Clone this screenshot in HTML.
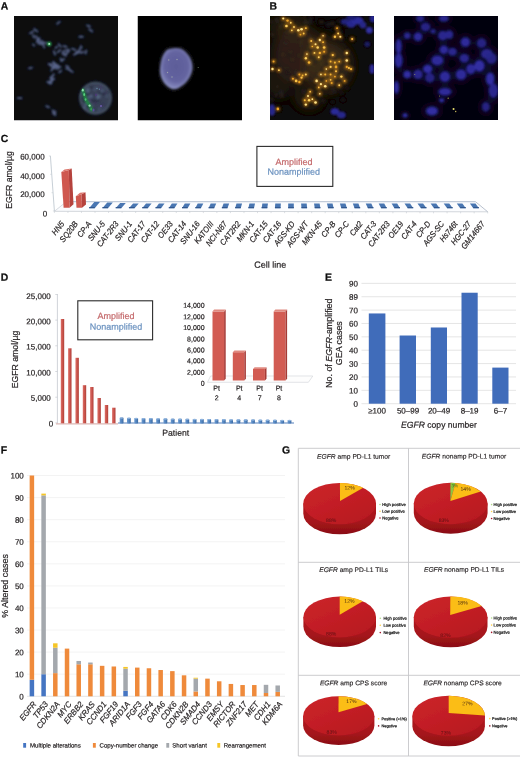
<!DOCTYPE html>
<html lang="en">
<head>
<meta charset="utf-8">
<title>EGFR amplification figure</title>
<style>
html,body{margin:0;padding:0;background:#fff;}
body{width:520px;height:757px;overflow:hidden;}
svg{display:block;font-family:"Liberation Sans",sans-serif;}
</style>
</head>
<body>
<svg width="520" height="757" viewBox="0 0 520 757">
<defs>
<filter id="b1" x="-50%" y="-50%" width="200%" height="200%"><feGaussianBlur stdDeviation="0.6"/></filter>
<filter id="b15" x="-50%" y="-50%" width="200%" height="200%"><feGaussianBlur stdDeviation="0.9"/></filter>
<filter id="b2" x="-50%" y="-50%" width="200%" height="200%"><feGaussianBlur stdDeviation="1.2"/></filter>
<filter id="b3" x="-50%" y="-50%" width="200%" height="200%"><feGaussianBlur stdDeviation="2.5"/></filter>
<filter id="b6" x="-50%" y="-50%" width="200%" height="200%"><feGaussianBlur stdDeviation="6"/></filter>
<filter id="soft" x="0" y="0" width="100%" height="100%" filterUnits="objectBoundingBox"><feGaussianBlur stdDeviation="0.32"/></filter>
<clipPath id="cA1"><rect x="14" y="16" width="104" height="104.5"/></clipPath>
<radialGradient id="gCell" cx="0.5" cy="0.5" r="0.5"><stop offset="0" stop-color="#353c52"/><stop offset="0.86" stop-color="#3a4358"/><stop offset="1" stop-color="#556478"/></radialGradient>
<clipPath id="cCell"><circle cx="95.5" cy="98.1" r="16.6"/></clipPath>
<clipPath id="cA2"><rect x="137.5" y="16" width="104.5" height="104.5"/></clipPath>
<radialGradient id="gBlob" cx="0.5" cy="0.45" r="0.55"><stop offset="0" stop-color="#5c5c98"/><stop offset="0.66" stop-color="#6464a0"/><stop offset="1" stop-color="#8e93c6"/></radialGradient>
<clipPath id="cB1"><rect x="270" y="16" width="104" height="104"/></clipPath>
<clipPath id="cB2"><rect x="394" y="16" width="104" height="104"/></clipPath>
<linearGradient id="gRed" x1="0" x2="1" y1="0" y2="0"><stop offset="0" stop-color="#dc7068"/><stop offset="0.55" stop-color="#c9524a"/><stop offset="1" stop-color="#ae403a"/></linearGradient>
<linearGradient id="gBlue" x1="0" x2="1" y1="0" y2="0"><stop offset="0" stop-color="#6a9ad0"/><stop offset="0.55" stop-color="#4f81bd"/><stop offset="1" stop-color="#3c6aa0"/></linearGradient>
<linearGradient id="gPieTop" x1="0.1" y1="0" x2="0.9" y2="1"><stop offset="0" stop-color="#cb242a"/><stop offset="0.5" stop-color="#c21e25"/><stop offset="1" stop-color="#b6181f"/></linearGradient>
<linearGradient id="gPieSide" x1="0" y1="0" x2="0" y2="1"><stop offset="0" stop-color="#b0191f"/><stop offset="0.6" stop-color="#a5151b"/><stop offset="1" stop-color="#8a0f14"/></linearGradient>
</defs>
<rect width="520" height="757" fill="#fff"/>
<g filter="url(#soft)">
<rect width="520" height="757" fill="#fff"/>
<!-- panel labels -->
<text x="0" y="0" font-size="10.4" font-weight="bold" fill="#111" transform="translate(0.8 9.5) rotate(0.03)" stroke="#111" stroke-width="0.25">A</text>
<text x="0" y="0" font-size="10.4" font-weight="bold" fill="#111" transform="translate(269.6 9.6) rotate(0.03)" stroke="#111" stroke-width="0.25">B</text>
<text x="0" y="0" font-size="10.4" font-weight="bold" fill="#111" transform="translate(0.8 142) rotate(0.03)" stroke="#111" stroke-width="0.25">C</text>
<text x="0" y="0" font-size="10.4" font-weight="bold" fill="#111" transform="translate(0.8 280.8) rotate(0.03)" stroke="#111" stroke-width="0.25">D</text>
<text x="0" y="0" font-size="10.4" font-weight="bold" fill="#111" transform="translate(325 280.8) rotate(0.03)" stroke="#111" stroke-width="0.25">E</text>
<text x="0" y="0" font-size="10.4" font-weight="bold" fill="#111" transform="translate(0.8 453.5) rotate(0.03)" stroke="#111" stroke-width="0.25">F</text>
<text x="0" y="0" font-size="10.4" font-weight="bold" fill="#111" transform="translate(282.1 453.6) rotate(0.03)" stroke="#111" stroke-width="0.25">G</text>
<!-- Panel A/B: microscopy images -->
<g clip-path="url(#cA1)">
<rect x="14" y="16" width="104" height="104.5" fill="#080b10"/>
<g filter="url(#b15)" stroke="#7482b2" stroke-width="1.8" stroke-linecap="round" opacity="0.78">
<line x1="38.54" y1="43.5" x2="41.59" y2="44.2"/>
<line x1="37.01" y1="40.52" x2="36.97" y2="42.37"/>
<line x1="45.05" y1="42.71" x2="46.85" y2="43.24"/>
<line x1="32.88" y1="44.34" x2="34.4" y2="45.63"/>
<line x1="33.05" y1="34.97" x2="34" y2="37.78"/>
<line x1="41.53" y1="40.59" x2="43.72" y2="43.41"/>
<line x1="43.64" y1="42.81" x2="41.64" y2="44.11"/>
<line x1="43.16" y1="44.69" x2="44.37" y2="47.55"/>
<line x1="38.92" y1="41.24" x2="40.4" y2="42.36"/>
<line x1="39.51" y1="37.83" x2="38.87" y2="40.14"/>
<line x1="69.26" y1="50.37" x2="67.25" y2="53.16"/>
<line x1="76.31" y1="53.68" x2="73.68" y2="54.77"/>
<line x1="71.99" y1="48.61" x2="75.56" y2="50"/>
<line x1="63.05" y1="52.09" x2="63.12" y2="54.14"/>
<line x1="86.33" y1="50.4" x2="85.57" y2="53.68"/>
<line x1="79.93" y1="48.24" x2="78.99" y2="51.32"/>
<line x1="68.74" y1="49.66" x2="65.26" y2="50.27"/>
<line x1="63.69" y1="51.01" x2="62.59" y2="52.5"/>
<line x1="58.57" y1="44" x2="60.76" y2="46.72"/>
<line x1="65.69" y1="52.59" x2="65.91" y2="54.35"/>
<line x1="77.24" y1="51.59" x2="75.86" y2="52.82"/>
<line x1="79.87" y1="51.97" x2="77.52" y2="52.97"/>
<line x1="83.49" y1="51.91" x2="80.77" y2="52.95"/>
<line x1="80.94" y1="45.88" x2="81.55" y2="48.12"/>
<line x1="62.61" y1="54.07" x2="65.98" y2="55.8"/>
<line x1="57.73" y1="66.62" x2="57.84" y2="68.84"/>
<line x1="53.07" y1="62.04" x2="53.51" y2="63.72"/>
<line x1="53.36" y1="67.52" x2="51.23" y2="70.64"/>
<line x1="48.45" y1="63.89" x2="51.59" y2="64.42"/>
<line x1="64.16" y1="59.02" x2="61.25" y2="61.16"/>
<line x1="53.12" y1="66.76" x2="52.32" y2="68.53"/>
<line x1="56.93" y1="64.89" x2="58.83" y2="65.95"/>
<line x1="54.74" y1="65.64" x2="56.27" y2="66.43"/>
<line x1="60.61" y1="67" x2="58.97" y2="67.69"/>
<line x1="53.84" y1="62.06" x2="54.88" y2="64.08"/>
<line x1="56.55" y1="66.49" x2="53" y2="66.56"/>
<line x1="50.28" y1="65.58" x2="52.09" y2="66.18"/>
<line x1="52.81" y1="66.9" x2="55.88" y2="68.6"/>
<line x1="66.1" y1="65.75" x2="68.66" y2="67.02"/>
<line x1="56.71" y1="64.39" x2="53.85" y2="64.58"/>
<line x1="60.44" y1="58.4" x2="61.37" y2="60.49"/>
<line x1="61.31" y1="70.64" x2="59.1" y2="72.48"/>
<line x1="50.67" y1="81.62" x2="47.21" y2="81.78"/>
<line x1="53.92" y1="74.26" x2="51.54" y2="76.8"/>
<line x1="49.07" y1="83.29" x2="51.55" y2="83.52"/>
<line x1="52.61" y1="79.33" x2="51.31" y2="81.2"/>
<line x1="54.49" y1="78.9" x2="50.75" y2="79.04"/>
<line x1="51.44" y1="78.33" x2="53.1" y2="79.77"/>
<line x1="51.89" y1="81.28" x2="48.98" y2="82.22"/>
<line x1="52.74" y1="76.05" x2="50.21" y2="77.89"/>
<line x1="60.36" y1="50.07" x2="57.5" y2="52.4"/>
<line x1="57.14" y1="46.68" x2="55.48" y2="47.98"/>
<line x1="53.85" y1="51.12" x2="55.08" y2="54.73"/>
<line x1="57.11" y1="23.9" x2="59.81" y2="21.63"/>
<line x1="34.22" y1="28.94" x2="37.47" y2="31.67"/>
<line x1="89.15" y1="29.17" x2="92.39" y2="31.44"/>
<line x1="87.09" y1="25.45" x2="90.13" y2="26.55"/>
<line x1="28.9" y1="68.27" x2="32.03" y2="67.72"/>
<line x1="69.99" y1="70.43" x2="72.77" y2="72.03"/>
<line x1="35.88" y1="36.03" x2="37.97" y2="39.66"/>
<line x1="52.72" y1="110.15" x2="53.43" y2="114.15"/>
<line x1="46.19" y1="106.22" x2="49.2" y2="107.31"/>
<line x1="55.23" y1="111.19" x2="55.23" y2="115.27"/>
<line x1="66.14" y1="68.34" x2="70.16" y2="69.81"/>
<line x1="29.86" y1="33.43" x2="33.21" y2="31.49"/>
<line x1="79.34" y1="36.77" x2="82.81" y2="36.77"/>
<line x1="17.83" y1="98.15" x2="21.55" y2="98.15"/>
<line x1="63.35" y1="46.18" x2="66.49" y2="46.74"/>
</g>
<circle cx="49.2" cy="43.88" r="2.2" fill="#38b860" filter="url(#b15)"/>
<circle cx="49.2" cy="43.88" r="0.9" fill="#b8f0c8" filter="url(#b1)"/>
<circle cx="95.5" cy="98.1" r="16.3" fill="url(#gCell)" filter="url(#b15)"/>
<g clip-path="url(#cCell)"><g filter="url(#b15)">
<circle cx="84.78" cy="101.41" r="1.54" fill="#222838" opacity="0.75"/>
<circle cx="99.51" cy="92.94" r="1.76" fill="#222838" opacity="0.75"/>
<circle cx="96.73" cy="93.66" r="1.17" fill="#4a3c6c" opacity="0.75"/>
<circle cx="81.76" cy="94.69" r="1.71" fill="#4e5e78" opacity="0.75"/>
<circle cx="87.48" cy="104.23" r="1.75" fill="#262c3c" opacity="0.75"/>
<circle cx="97.35" cy="94.82" r="1.23" fill="#4e5e78" opacity="0.75"/>
<circle cx="95.63" cy="100.7" r="1.39" fill="#222838" opacity="0.75"/>
<circle cx="89.92" cy="94.51" r="1.77" fill="#2a3042" opacity="0.75"/>
<circle cx="83.29" cy="98.12" r="1.79" fill="#222838" opacity="0.75"/>
<circle cx="86.22" cy="104.26" r="1.85" fill="#56688a" opacity="0.75"/>
<circle cx="92.63" cy="104.69" r="1.04" fill="#4a3c6c" opacity="0.75"/>
<circle cx="90.95" cy="96.2" r="2.02" fill="#56688a" opacity="0.75"/>
<circle cx="84.4" cy="107.7" r="1.26" fill="#4e5e78" opacity="0.75"/>
<circle cx="98.58" cy="96.58" r="2.18" fill="#5a6a84" opacity="0.75"/>
<circle cx="92.26" cy="100.54" r="1.93" fill="#2a3042" opacity="0.75"/>
<circle cx="94.95" cy="102.49" r="1.02" fill="#3e3260" opacity="0.75"/>
<circle cx="83.33" cy="105.82" r="1.3" fill="#262c3c" opacity="0.75"/>
<circle cx="98.46" cy="100.28" r="1.21" fill="#222838" opacity="0.75"/>
<circle cx="86.15" cy="94.45" r="2.18" fill="#2a3042" opacity="0.75"/>
<circle cx="96.69" cy="88.46" r="1.14" fill="#5a6a84" opacity="0.75"/>
<circle cx="89.42" cy="101.41" r="2.04" fill="#4a3c6c" opacity="0.75"/>
<circle cx="106.9" cy="96.28" r="1.25" fill="#4e5e78" opacity="0.75"/>
<circle cx="84.58" cy="106.65" r="1.05" fill="#56688a" opacity="0.75"/>
<circle cx="101.54" cy="106.03" r="1.93" fill="#4e5e78" opacity="0.75"/>
<circle cx="91.61" cy="105.28" r="1.09" fill="#56688a" opacity="0.75"/>
<circle cx="98.57" cy="109.67" r="1.72" fill="#4e5e78" opacity="0.75"/>
<circle cx="88.51" cy="105.39" r="2" fill="#222838" opacity="0.75"/>
<circle cx="101.63" cy="105.12" r="1.37" fill="#262c3c" opacity="0.75"/>
<circle cx="97.09" cy="109.71" r="1.19" fill="#2a3042" opacity="0.75"/>
<circle cx="87.81" cy="90.01" r="2.06" fill="#5a6a84" opacity="0.75"/>
<circle cx="87.75" cy="92.2" r="1.13" fill="#56688a" opacity="0.75"/>
<circle cx="87.95" cy="97.51" r="1.31" fill="#5a6a84" opacity="0.75"/>
<circle cx="100.68" cy="87.74" r="1.62" fill="#4a3c6c" opacity="0.75"/>
<circle cx="108.89" cy="91.72" r="1.27" fill="#262c3c" opacity="0.75"/>
<circle cx="82.6" cy="93.05" r="1.34" fill="#56688a" opacity="0.75"/>
<circle cx="101.38" cy="94.74" r="1.08" fill="#4e5e78" opacity="0.75"/>
<circle cx="89.14" cy="102.05" r="1.21" fill="#4e5e78" opacity="0.75"/>
<circle cx="87.8" cy="106.43" r="1.11" fill="#262c3c" opacity="0.75"/>
<circle cx="101.99" cy="105.79" r="1.79" fill="#3e3260" opacity="0.75"/>
<circle cx="91.36" cy="87.41" r="1.71" fill="#262c3c" opacity="0.75"/>
<circle cx="104.67" cy="93.33" r="1.84" fill="#3e3260" opacity="0.75"/>
<circle cx="97.63" cy="97.59" r="1.58" fill="#56688a" opacity="0.75"/>
<circle cx="94.46" cy="89.69" r="1.09" fill="#56688a" opacity="0.75"/>
<circle cx="83.16" cy="94.42" r="1.95" fill="#262c3c" opacity="0.75"/>
<circle cx="103.16" cy="93.57" r="2.08" fill="#222838" opacity="0.75"/>
<circle cx="102.18" cy="91.08" r="2.04" fill="#4e5e78" opacity="0.75"/>
</g>
<path d="M82.6 89.5 C83 92 84.6 93.5 84.8 96.5 C85 99.5 86.8 101.5 89 104.5 C90 106 91 108.5 91.5 110" fill="none" stroke="#1f9440" stroke-width="2.6" stroke-linecap="round" filter="url(#b15)"/>
<g filter="url(#b1)">
<ellipse cx="82.8" cy="90.2" rx="1.0" ry="1.4" fill="#8ae0a8"/>
<ellipse cx="84.2" cy="94.5" rx="0.9" ry="1.6" fill="#58d080"/>
<ellipse cx="85.6" cy="99.5" rx="0.9" ry="1.3" fill="#48c070"/>
<ellipse cx="89.6" cy="105.6" rx="1.1" ry="1.2" fill="#a0e0b8"/>
<ellipse cx="91.2" cy="109.2" rx="0.8" ry="1.2" fill="#389a50"/>
<ellipse cx="97" cy="88.5" rx="0.7" ry="0.7" fill="#6088a0"/>
<ellipse cx="99.4" cy="89.2" rx="0.6" ry="0.6" fill="#6088a0"/>
<ellipse cx="101" cy="106" rx="1.0" ry="1.0" fill="#6a58a8"/>
<ellipse cx="93.5" cy="110" rx="1.0" ry="1.6" fill="#5a4a98"/>
<ellipse cx="96" cy="95" rx="0.9" ry="1.2" fill="#4a3878"/>
</g></g>
</g>
<g clip-path="url(#cA2)">
<rect x="137.5" y="16" width="104.5" height="104.5" fill="#060606"/>
<path d="M170 48.75 C172.71 48.21 177.92 47.29 181.25 48.75 C184.58 50.21 188.12 54.17 190 57.5 C191.88 60.83 192.83 65 192.5 68.75 C192.17 72.5 190.29 76.79 188 80 C185.71 83.21 181.54 86.54 178.75 88 C175.96 89.46 173.75 89.67 171.25 88.75 C168.75 87.83 165.62 85.21 163.75 82.5 C161.88 79.79 160.42 76.25 160 72.5 C159.58 68.75 160.42 63.42 161.25 60 C162.08 56.58 163.54 53.88 165 52 C166.46 50.12 167.29 49.29 170 48.75Z" fill="url(#gBlob)" filter="url(#b15)"/>
<circle cx="168.75" cy="60" r="0.7" fill="#9aa0a8" filter="url(#b1)"/>
<circle cx="177" cy="59.5" r="0.7" fill="#9aa0a8" filter="url(#b1)"/>
<circle cx="172" cy="77" r="0.7" fill="#9aa0a8" filter="url(#b1)"/>
<circle cx="167.5" cy="72.5" r="0.7" fill="#9aa0a8" filter="url(#b1)"/>
<circle cx="198.25" cy="67.5" r="0.6" fill="#556655"/>
</g>
<g clip-path="url(#cB1)">
<rect x="270" y="16" width="104" height="104" fill="#0b0707"/>
<g filter="url(#b6)">
<ellipse cx="298.31" cy="55.08" rx="26" ry="28" fill="#3a2a18" opacity="0.7"/>
<ellipse cx="328.46" cy="65.84" rx="24" ry="26" fill="#40301a" opacity="0.75"/>
<ellipse cx="289.69" cy="27.08" rx="20" ry="12" fill="#342614" opacity="0.7"/>
<ellipse cx="309.08" cy="98.15" rx="14" ry="12" fill="#302212" opacity="0.7"/>
<ellipse cx="278.92" cy="83.07" rx="14" ry="16" fill="#241e16" opacity="0.7"/>
<ellipse cx="317.69" cy="46.46" rx="14" ry="12" fill="#3c2e16" opacity="0.7"/>
</g>
<g filter="url(#b2)" opacity="0.5">
<circle cx="271.41" cy="99.95" r="1.98" fill="#2a2630"/>
<circle cx="303.94" cy="91.41" r="2.19" fill="#2a2630"/>
<circle cx="272.48" cy="34.64" r="1.8" fill="#40301c"/>
<circle cx="290.42" cy="52.41" r="1.36" fill="#40301c"/>
<circle cx="339.91" cy="73.38" r="2.18" fill="#1c1a20"/>
<circle cx="334.44" cy="91.96" r="1.36" fill="#2a2630"/>
<circle cx="310.9" cy="17.92" r="1.73" fill="#2a2630"/>
<circle cx="317.49" cy="83.16" r="1.38" fill="#2a2630"/>
<circle cx="307.02" cy="78.78" r="1.87" fill="#40301c"/>
<circle cx="323.21" cy="62.03" r="1.78" fill="#3a3024"/>
<circle cx="338.79" cy="21.2" r="1.43" fill="#3a3024"/>
<circle cx="330.19" cy="60.05" r="1.87" fill="#3a3024"/>
<circle cx="304.68" cy="69.08" r="1.81" fill="#2a2630"/>
<circle cx="324.02" cy="55.28" r="1.84" fill="#1c1a20"/>
<circle cx="309.68" cy="37.64" r="1.83" fill="#40301c"/>
<circle cx="341.86" cy="93.22" r="1.44" fill="#1c1a20"/>
<circle cx="280.94" cy="26.79" r="1.73" fill="#3a3024"/>
<circle cx="322.35" cy="53.21" r="1.46" fill="#40301c"/>
<circle cx="331.09" cy="93.59" r="1.39" fill="#40301c"/>
<circle cx="281.39" cy="92.36" r="2.36" fill="#2a2630"/>
<circle cx="328.2" cy="24.42" r="2.26" fill="#2a2630"/>
<circle cx="347.06" cy="88.02" r="1.39" fill="#1c1a20"/>
<circle cx="347.38" cy="51.1" r="1.71" fill="#40301c"/>
<circle cx="295" cy="78.52" r="1.22" fill="#1c1a20"/>
<circle cx="304.46" cy="17.87" r="1.6" fill="#40301c"/>
<circle cx="310.03" cy="21.85" r="2.38" fill="#2a2630"/>
<circle cx="345.65" cy="25.33" r="1.52" fill="#3a3024"/>
<circle cx="340.55" cy="31.95" r="2.11" fill="#1c1a20"/>
<circle cx="336.18" cy="74.54" r="2.34" fill="#1c1a20"/>
<circle cx="281.89" cy="95.5" r="1.88" fill="#40301c"/>
<circle cx="277.24" cy="21.26" r="2.03" fill="#1c1a20"/>
<circle cx="339.72" cy="39.48" r="1.22" fill="#3a3024"/>
<circle cx="332.46" cy="23.52" r="2.23" fill="#3a3024"/>
<circle cx="290.81" cy="26.79" r="1.21" fill="#1c1a20"/>
<circle cx="342.16" cy="39.38" r="1.36" fill="#2a2630"/>
<circle cx="343.05" cy="99.81" r="1.51" fill="#2a2630"/>
<circle cx="285.95" cy="43.19" r="1.57" fill="#2a2630"/>
<circle cx="292.79" cy="59.39" r="1.41" fill="#40301c"/>
<circle cx="332.62" cy="101.98" r="1.24" fill="#3a3024"/>
<circle cx="327.15" cy="63.78" r="1.43" fill="#1c1a20"/>
<circle cx="289.36" cy="54.82" r="1.99" fill="#1c1a20"/>
<circle cx="321.21" cy="63.34" r="2.27" fill="#40301c"/>
<circle cx="323.63" cy="100.95" r="1.61" fill="#2a2630"/>
<circle cx="301.69" cy="46.25" r="1.27" fill="#2a2630"/>
<circle cx="271.41" cy="70.19" r="2.26" fill="#1c1a20"/>
<circle cx="282.97" cy="23.59" r="2.21" fill="#40301c"/>
<circle cx="316.73" cy="75.98" r="1.25" fill="#2a2630"/>
<circle cx="282.52" cy="54.72" r="1.52" fill="#40301c"/>
<circle cx="345.72" cy="63.44" r="1.49" fill="#40301c"/>
<circle cx="287.2" cy="32.07" r="1.6" fill="#3a3024"/>
<circle cx="307.11" cy="59.62" r="1.44" fill="#3a3024"/>
<circle cx="277.35" cy="86.7" r="1.37" fill="#3a3024"/>
<circle cx="300.86" cy="42.12" r="1.96" fill="#3a3024"/>
<circle cx="315.71" cy="61.9" r="2.1" fill="#1c1a20"/>
<circle cx="329.57" cy="78.39" r="1.79" fill="#40301c"/>
<circle cx="326.46" cy="71.72" r="1.25" fill="#1c1a20"/>
<circle cx="327.21" cy="86.28" r="1.37" fill="#3a3024"/>
<circle cx="334.38" cy="66.63" r="2.27" fill="#2a2630"/>
<circle cx="276.91" cy="19.91" r="1.96" fill="#3a3024"/>
<circle cx="299.51" cy="55.2" r="1.26" fill="#3a3024"/>
<circle cx="318.86" cy="74.95" r="1.79" fill="#3a3024"/>
<circle cx="305.74" cy="22.35" r="2.32" fill="#3a3024"/>
<circle cx="321.43" cy="22" r="2.08" fill="#40301c"/>
<circle cx="333.05" cy="89.2" r="1.48" fill="#2a2630"/>
<circle cx="288.2" cy="72.3" r="1.75" fill="#1c1a20"/>
<circle cx="276.26" cy="94.75" r="1.54" fill="#3a3024"/>
<circle cx="318.15" cy="71.68" r="1.29" fill="#2a2630"/>
<circle cx="296.03" cy="72.44" r="2.03" fill="#2a2630"/>
<circle cx="271.27" cy="21.53" r="1.52" fill="#3a3024"/>
<circle cx="323.98" cy="74.52" r="1.55" fill="#40301c"/>
</g>
<g filter="url(#b2)">
<ellipse cx="344.61" cy="21.69" rx="4" ry="3" fill="#20207a"/>
<ellipse cx="351.07" cy="23.85" rx="5" ry="4" fill="#28288e"/>
<ellipse cx="357.54" cy="20.62" rx="6" ry="4" fill="#2c2c9a"/>
<ellipse cx="362.92" cy="24.92" rx="3.5" ry="3.5" fill="#262688"/>
<ellipse cx="369.38" cy="30.31" rx="3.5" ry="3.5" fill="#3030a0"/>
<ellipse cx="351.07" cy="17.38" rx="5" ry="2.5" fill="#1e1e70"/>
<ellipse cx="371.97" cy="69.08" rx="2.5" ry="5" fill="#2c2c98"/>
<ellipse cx="334.92" cy="111.5" rx="4.5" ry="3.5" fill="#2c2c98"/>
<ellipse cx="341.38" cy="114.95" rx="4.5" ry="3.5" fill="#28288c"/>
<ellipse cx="272.03" cy="110" rx="3.5" ry="6" fill="#262688"/>
<ellipse cx="372.61" cy="18.46" rx="3" ry="4" fill="#24248a"/>
<ellipse cx="367.23" cy="44.31" rx="3" ry="3" fill="#1a1a60"/>
</g>
<g filter="url(#b2)" fill="#c07c18" opacity="0.62">
<circle cx="283.23" cy="18.46" r="2.5"/>
<circle cx="287.54" cy="20.62" r="2.5"/>
<circle cx="290.77" cy="22.77" r="2.5"/>
<circle cx="286.46" cy="26" r="2.5"/>
<circle cx="294" cy="27.08" r="2.5"/>
<circle cx="298.31" cy="30.31" r="2.5"/>
<circle cx="301.54" cy="29.23" r="2.5"/>
<circle cx="303.69" cy="33.54" r="2.5"/>
<circle cx="291.85" cy="30.31" r="2.5"/>
<circle cx="300.46" cy="34.61" r="2.5"/>
<circle cx="305.84" cy="28.15" r="2.5"/>
<circle cx="337.07" cy="28.15" r="2.5"/>
<circle cx="338.15" cy="33.54" r="2.5"/>
<circle cx="334.92" cy="36.77" r="2.5"/>
<circle cx="340.31" cy="36.77" r="2.5"/>
<circle cx="352.15" cy="38.92" r="2.5"/>
<circle cx="323.08" cy="35.69" r="2.5"/>
<circle cx="319.84" cy="40" r="2.5"/>
<circle cx="311.23" cy="41.08" r="2.5"/>
<circle cx="315.54" cy="44.31" r="2.5"/>
<circle cx="323.08" cy="42.15" r="2.5"/>
<circle cx="312.31" cy="46.46" r="2.5"/>
<circle cx="317.69" cy="47.54" r="2.5"/>
<circle cx="324.15" cy="47.54" r="2.5"/>
<circle cx="319.84" cy="52.92" r="2.5"/>
<circle cx="314.46" cy="52.92" r="2.5"/>
<circle cx="324.15" cy="51.84" r="2.5"/>
<circle cx="306.92" cy="54" r="2.5"/>
<circle cx="305.84" cy="58.31" r="2.5"/>
<circle cx="318.77" cy="57.23" r="2.5"/>
<circle cx="309.08" cy="62.61" r="2.5"/>
<circle cx="332.77" cy="55.08" r="2.5"/>
<circle cx="330.61" cy="61.54" r="2.5"/>
<circle cx="334.92" cy="62.61" r="2.5"/>
<circle cx="339.23" cy="61.54" r="2.5"/>
<circle cx="346.77" cy="52.92" r="2.5"/>
<circle cx="346.77" cy="60.46" r="2.5"/>
<circle cx="336" cy="66.92" r="2.5"/>
<circle cx="330.61" cy="66.92" r="2.5"/>
<circle cx="326.31" cy="69.08" r="2.5"/>
<circle cx="348.92" cy="68" r="2.5"/>
<circle cx="351.07" cy="69.08" r="2.5"/>
<circle cx="346.77" cy="66.92" r="2.5"/>
<circle cx="320.92" cy="74.46" r="2.5"/>
<circle cx="325.23" cy="74.46" r="2.5"/>
<circle cx="330.61" cy="74.46" r="2.5"/>
<circle cx="336" cy="71.23" r="2.5"/>
<circle cx="334.92" cy="76.61" r="2.5"/>
<circle cx="341.38" cy="76.61" r="2.5"/>
<circle cx="330.61" cy="79.84" r="2.5"/>
<circle cx="326.31" cy="80.92" r="2.5"/>
<circle cx="316.61" cy="80.92" r="2.5"/>
<circle cx="320.92" cy="84.15" r="2.5"/>
<circle cx="325.23" cy="86.31" r="2.5"/>
<circle cx="331.69" cy="83.07" r="2.5"/>
<circle cx="339.23" cy="85.23" r="2.5"/>
<circle cx="344.61" cy="80.92" r="2.5"/>
<circle cx="318.77" cy="87.38" r="2.5"/>
<circle cx="273.54" cy="61.54" r="2.5"/>
<circle cx="278.92" cy="70.15" r="2.5"/>
<circle cx="272.46" cy="69.08" r="2.5"/>
<circle cx="299.38" cy="74.46" r="2.5"/>
<circle cx="302.61" cy="75.54" r="2.5"/>
<circle cx="305.84" cy="74.46" r="2.5"/>
<circle cx="292.92" cy="78.77" r="2.5"/>
<circle cx="296.15" cy="80.92" r="2.5"/>
<circle cx="299.38" cy="82" r="2.5"/>
<circle cx="301.54" cy="77.69" r="2.5"/>
<circle cx="310.15" cy="91.69" r="2.5"/>
<circle cx="308" cy="96" r="2.5"/>
<circle cx="304.77" cy="100.3" r="2.5"/>
<circle cx="309.08" cy="100.3" r="2.5"/>
<circle cx="312.31" cy="99.23" r="2.5"/>
<circle cx="305.84" cy="104.61" r="2.5"/>
<circle cx="315.54" cy="102.46" r="2.5"/>
<circle cx="319.84" cy="93.84" r="2.5"/>
<circle cx="277.85" cy="108.92" r="2.5"/>
</g>
<g filter="url(#b1)">
<circle cx="283.23" cy="18.46" r="1.06" fill="#ffe488"/>
<circle cx="287.54" cy="20.62" r="1.22" fill="#eca428"/>
<circle cx="290.77" cy="22.77" r="0.91" fill="#ffd460"/>
<circle cx="286.46" cy="26" r="1.31" fill="#ffd460"/>
<circle cx="294" cy="27.08" r="0.96" fill="#ffd460"/>
<circle cx="298.31" cy="30.31" r="1.25" fill="#ffe488"/>
<circle cx="301.54" cy="29.23" r="1.35" fill="#ffe488"/>
<circle cx="303.69" cy="33.54" r="0.92" fill="#fcc448"/>
<circle cx="291.85" cy="30.31" r="0.84" fill="#ffd460"/>
<circle cx="300.46" cy="34.61" r="0.88" fill="#eca428"/>
<circle cx="305.84" cy="28.15" r="0.94" fill="#f4b434"/>
<circle cx="337.07" cy="28.15" r="0.87" fill="#eca428"/>
<circle cx="338.15" cy="33.54" r="0.95" fill="#ffd460"/>
<circle cx="334.92" cy="36.77" r="1.19" fill="#fcc448"/>
<circle cx="340.31" cy="36.77" r="1.07" fill="#ffe488"/>
<circle cx="352.15" cy="38.92" r="1.02" fill="#fcc448"/>
<circle cx="323.08" cy="35.69" r="0.8" fill="#ffe488"/>
<circle cx="319.84" cy="40" r="1.17" fill="#ffe488"/>
<circle cx="311.23" cy="41.08" r="0.97" fill="#fcc448"/>
<circle cx="315.54" cy="44.31" r="1.03" fill="#ffe488"/>
<circle cx="323.08" cy="42.15" r="0.97" fill="#f4b434"/>
<circle cx="312.31" cy="46.46" r="0.8" fill="#f4b434"/>
<circle cx="317.69" cy="47.54" r="1.26" fill="#ffd460"/>
<circle cx="324.15" cy="47.54" r="1.32" fill="#fcc448"/>
<circle cx="319.84" cy="52.92" r="1.19" fill="#f4b434"/>
<circle cx="314.46" cy="52.92" r="0.94" fill="#ffd460"/>
<circle cx="324.15" cy="51.84" r="1.02" fill="#eca428"/>
<circle cx="306.92" cy="54" r="0.84" fill="#ffe488"/>
<circle cx="305.84" cy="58.31" r="1.22" fill="#ffd460"/>
<circle cx="318.77" cy="57.23" r="0.95" fill="#ffd460"/>
<circle cx="309.08" cy="62.61" r="1.26" fill="#f4b434"/>
<circle cx="332.77" cy="55.08" r="1.15" fill="#fcc448"/>
<circle cx="330.61" cy="61.54" r="0.94" fill="#f4b434"/>
<circle cx="334.92" cy="62.61" r="1.04" fill="#f4b434"/>
<circle cx="339.23" cy="61.54" r="0.9" fill="#f4b434"/>
<circle cx="346.77" cy="52.92" r="1.23" fill="#ffe488"/>
<circle cx="346.77" cy="60.46" r="1.29" fill="#ffe488"/>
<circle cx="336" cy="66.92" r="1.3" fill="#eca428"/>
<circle cx="330.61" cy="66.92" r="1.1" fill="#ffd460"/>
<circle cx="326.31" cy="69.08" r="0.83" fill="#ffe488"/>
<circle cx="348.92" cy="68" r="1.05" fill="#fcc448"/>
<circle cx="351.07" cy="69.08" r="1.15" fill="#f4b434"/>
<circle cx="346.77" cy="66.92" r="1.07" fill="#eca428"/>
<circle cx="320.92" cy="74.46" r="0.87" fill="#ffe488"/>
<circle cx="325.23" cy="74.46" r="1.03" fill="#f4b434"/>
<circle cx="330.61" cy="74.46" r="0.96" fill="#f4b434"/>
<circle cx="336" cy="71.23" r="1.02" fill="#fcc448"/>
<circle cx="334.92" cy="76.61" r="0.97" fill="#eca428"/>
<circle cx="341.38" cy="76.61" r="1.17" fill="#ffd460"/>
<circle cx="330.61" cy="79.84" r="0.89" fill="#fcc448"/>
<circle cx="326.31" cy="80.92" r="0.84" fill="#eca428"/>
<circle cx="316.61" cy="80.92" r="1.3" fill="#ffe488"/>
<circle cx="320.92" cy="84.15" r="1.1" fill="#ffe488"/>
<circle cx="325.23" cy="86.31" r="1.3" fill="#ffe488"/>
<circle cx="331.69" cy="83.07" r="1.04" fill="#eca428"/>
<circle cx="339.23" cy="85.23" r="0.91" fill="#ffd460"/>
<circle cx="344.61" cy="80.92" r="0.9" fill="#eca428"/>
<circle cx="318.77" cy="87.38" r="0.85" fill="#fcc448"/>
<circle cx="273.54" cy="61.54" r="1" fill="#eca428"/>
<circle cx="278.92" cy="70.15" r="0.91" fill="#ffd460"/>
<circle cx="272.46" cy="69.08" r="1.21" fill="#ffe488"/>
<circle cx="299.38" cy="74.46" r="1.01" fill="#eca428"/>
<circle cx="302.61" cy="75.54" r="0.92" fill="#f4b434"/>
<circle cx="305.84" cy="74.46" r="0.99" fill="#ffd460"/>
<circle cx="292.92" cy="78.77" r="1.07" fill="#eca428"/>
<circle cx="296.15" cy="80.92" r="1.33" fill="#fcc448"/>
<circle cx="299.38" cy="82" r="1.18" fill="#eca428"/>
<circle cx="301.54" cy="77.69" r="1.15" fill="#fcc448"/>
<circle cx="310.15" cy="91.69" r="0.85" fill="#fcc448"/>
<circle cx="308" cy="96" r="1.01" fill="#ffe488"/>
<circle cx="304.77" cy="100.3" r="1.04" fill="#f4b434"/>
<circle cx="309.08" cy="100.3" r="1.27" fill="#ffd460"/>
<circle cx="312.31" cy="99.23" r="0.87" fill="#ffe488"/>
<circle cx="305.84" cy="104.61" r="1.19" fill="#ffe488"/>
<circle cx="315.54" cy="102.46" r="1.33" fill="#ffe488"/>
<circle cx="319.84" cy="93.84" r="0.8" fill="#ffe488"/>
<circle cx="277.85" cy="108.92" r="1.31" fill="#eca428"/>
</g>
</g>
<g clip-path="url(#cB2)">
<rect x="394" y="16" width="104" height="104" fill="#05030d"/>
<g filter="url(#b3)" opacity="0.3" fill="#1a1878">
<ellipse cx="420.15" cy="18.46" rx="6.2" ry="4.82"/>
<ellipse cx="425.54" cy="27.08" rx="7.58" ry="6.89"/>
<ellipse cx="443.84" cy="18.46" rx="7.58" ry="4.82"/>
<ellipse cx="418" cy="36.77" rx="6.89" ry="6.89"/>
<ellipse cx="407.23" cy="35.69" rx="5.17" ry="5.17"/>
<ellipse cx="442.77" cy="35.69" rx="7.58" ry="7.58"/>
<ellipse cx="449.23" cy="34.61" rx="6.2" ry="6.89"/>
<ellipse cx="465.38" cy="42.15" rx="7.58" ry="7.58"/>
<ellipse cx="481.54" cy="43.23" rx="7.58" ry="7.58"/>
<ellipse cx="398.62" cy="46.46" rx="4.82" ry="12.06"/>
<ellipse cx="398.62" cy="60.46" rx="6.2" ry="12.06"/>
<ellipse cx="443.84" cy="49.69" rx="6.89" ry="6.89"/>
<ellipse cx="452.46" cy="51.84" rx="6.89" ry="6.2"/>
<ellipse cx="464.31" cy="58.31" rx="7.58" ry="6.89"/>
<ellipse cx="437.38" cy="60.46" rx="9.65" ry="8.27"/>
<ellipse cx="427.69" cy="69.08" rx="7.58" ry="6.89"/>
<ellipse cx="418" cy="74.46" rx="7.58" ry="7.58"/>
<ellipse cx="407.23" cy="74.46" rx="6.2" ry="6.2"/>
<ellipse cx="429.84" cy="77.69" rx="7.58" ry="7.58"/>
<ellipse cx="444.92" cy="76.61" rx="8.62" ry="8.62"/>
<ellipse cx="461.07" cy="74.46" rx="8.62" ry="8.62"/>
<ellipse cx="470.77" cy="69.08" rx="7.58" ry="8.27"/>
<ellipse cx="479.38" cy="65.84" rx="8.62" ry="9.65"/>
<ellipse cx="486.92" cy="54" rx="9.65" ry="8.27"/>
<ellipse cx="491.23" cy="58.31" rx="8.62" ry="8.96"/>
<ellipse cx="490.15" cy="78.77" rx="6.89" ry="10.34"/>
<ellipse cx="493.38" cy="90.61" rx="7.58" ry="12.06"/>
<ellipse cx="396.46" cy="87.38" rx="4.14" ry="10.34"/>
<ellipse cx="444.92" cy="91.69" rx="10.34" ry="6.2"/>
<ellipse cx="432" cy="111.07" rx="9.65" ry="6.89"/>
<ellipse cx="485.84" cy="106.77" rx="6.2" ry="7.58"/>
<ellipse cx="441.69" cy="100.3" rx="4.14" ry="3.45"/>
<ellipse cx="405.08" cy="115.38" rx="4.14" ry="3.45"/>
<ellipse cx="433.08" cy="31.38" rx="4.14" ry="3.45"/>
</g>
<g filter="url(#b2)">
<ellipse cx="420.15" cy="18.46" rx="3.8" ry="2.95" fill="#27248a" opacity="0.92"/>
<ellipse cx="425.54" cy="27.08" rx="4.64" ry="4.22" fill="#27248a" opacity="0.92"/>
<ellipse cx="443.84" cy="18.46" rx="4.64" ry="2.95" fill="#2a2896" opacity="0.92"/>
<ellipse cx="418" cy="36.77" rx="4.22" ry="4.22" fill="#2f2ca2" opacity="0.92"/>
<ellipse cx="407.23" cy="35.69" rx="3.17" ry="3.17" fill="#2a2896" opacity="0.92"/>
<ellipse cx="442.77" cy="35.69" rx="4.64" ry="4.64" fill="#2a2896" opacity="0.92"/>
<ellipse cx="449.23" cy="34.61" rx="3.8" ry="4.22" fill="#2a2896" opacity="0.92"/>
<ellipse cx="465.38" cy="42.15" rx="4.64" ry="4.64" fill="#2f2ca2" opacity="0.92"/>
<ellipse cx="481.54" cy="43.23" rx="4.64" ry="4.64" fill="#27248a" opacity="0.92"/>
<ellipse cx="398.62" cy="46.46" rx="2.95" ry="7.39" fill="#2f2ca2" opacity="0.92"/>
<ellipse cx="398.62" cy="60.46" rx="3.8" ry="7.39" fill="#2f2ca2" opacity="0.92"/>
<ellipse cx="443.84" cy="49.69" rx="4.22" ry="4.22" fill="#2f2ca2" opacity="0.92"/>
<ellipse cx="452.46" cy="51.84" rx="4.22" ry="3.8" fill="#2a2896" opacity="0.92"/>
<ellipse cx="464.31" cy="58.31" rx="4.64" ry="4.22" fill="#2a2896" opacity="0.92"/>
<ellipse cx="437.38" cy="60.46" rx="5.91" ry="5.07" fill="#2f2ca2" opacity="0.92"/>
<ellipse cx="427.69" cy="69.08" rx="4.64" ry="4.22" fill="#3431aa" opacity="0.92"/>
<ellipse cx="418" cy="74.46" rx="4.64" ry="4.64" fill="#2a2896" opacity="0.92"/>
<ellipse cx="407.23" cy="74.46" rx="3.8" ry="3.8" fill="#3431aa" opacity="0.92"/>
<ellipse cx="429.84" cy="77.69" rx="4.64" ry="4.64" fill="#27248a" opacity="0.92"/>
<ellipse cx="444.92" cy="76.61" rx="5.28" ry="5.28" fill="#2f2ca2" opacity="0.92"/>
<ellipse cx="461.07" cy="74.46" rx="5.28" ry="5.28" fill="#2f2ca2" opacity="0.92"/>
<ellipse cx="470.77" cy="69.08" rx="4.64" ry="5.07" fill="#2f2ca2" opacity="0.92"/>
<ellipse cx="479.38" cy="65.84" rx="5.28" ry="5.91" fill="#3431aa" opacity="0.92"/>
<ellipse cx="486.92" cy="54" rx="5.91" ry="5.07" fill="#2a2896" opacity="0.92"/>
<ellipse cx="491.23" cy="58.31" rx="5.28" ry="5.49" fill="#27248a" opacity="0.92"/>
<ellipse cx="490.15" cy="78.77" rx="4.22" ry="6.33" fill="#3431aa" opacity="0.92"/>
<ellipse cx="493.38" cy="90.61" rx="4.64" ry="7.39" fill="#2a2896" opacity="0.92"/>
<ellipse cx="396.46" cy="87.38" rx="2.53" ry="6.33" fill="#2f2ca2" opacity="0.92"/>
<ellipse cx="444.92" cy="91.69" rx="6.33" ry="3.8" fill="#2f2ca2" opacity="0.92"/>
<ellipse cx="432" cy="111.07" rx="5.91" ry="4.22" fill="#3431aa" opacity="0.92"/>
<ellipse cx="485.84" cy="106.77" rx="3.8" ry="4.64" fill="#27248a" opacity="0.92"/>
<ellipse cx="441.69" cy="100.3" rx="2.53" ry="2.11" fill="#3431aa" opacity="0.92"/>
<ellipse cx="405.08" cy="115.38" rx="2.53" ry="2.11" fill="#3431aa" opacity="0.92"/>
<ellipse cx="433.08" cy="31.38" rx="2.53" ry="2.11" fill="#2a2896" opacity="0.92"/>
</g>
<g filter="url(#b1)">
<circle cx="453.54" cy="108.92" r="1.0" fill="#e8e070"/>
<circle cx="455.69" cy="111.5" r="0.7" fill="#c8c060"/>
<circle cx="448.15" cy="98.15" r="0.6" fill="#b0b050"/>
<circle cx="439.54" cy="96" r="0.5" fill="#909040"/>
<circle cx="414.77" cy="74.46" r="0.5" fill="#a0a060"/>
</g>
</g>
<!-- Panel C -->
<text x="0" y="0" font-size="9.1" text-anchor="middle" fill="#231f20" stroke="#231f20" stroke-width="0.2" transform="translate(12.2 180) rotate(-90) scale(0.957 1)">EGFR amol/µg</text>
<text x="0" y="0" font-size="8" text-anchor="end" fill="#231f20" stroke="#231f20" stroke-width="0.2" transform="translate(44.6 159.5) rotate(0.03)">60,000</text>
<text x="0" y="0" font-size="8" text-anchor="end" fill="#231f20" stroke="#231f20" stroke-width="0.2" transform="translate(44.6 178.9) rotate(0.03)">40,000</text>
<text x="0" y="0" font-size="8" text-anchor="end" fill="#231f20" stroke="#231f20" stroke-width="0.2" transform="translate(44.6 196.9) rotate(0.03)">20,000</text>
<text x="0" y="0" font-size="8" text-anchor="end" fill="#231f20" stroke="#231f20" stroke-width="0.2" transform="translate(47.1 216.6) rotate(0.03)">0</text>
<line x1="50.4" y1="155.8" x2="54.4" y2="211" stroke="#b9c3cc" stroke-width="0.8"/>
<polygon points="54.4,211.3 487.7,211.8 475.5,201.6 66.5,201.6" fill="#fbfcfe"/>
<line x1="66.5" y1="201.7" x2="475.5" y2="201.7" stroke="#9fb0c4" stroke-width="0.8"/>
<line x1="54.4" y1="211.3" x2="487.7" y2="211.8" stroke="#c6cbd2" stroke-width="0.8"/>
<line x1="54.4" y1="211.3" x2="66.5" y2="201.6" stroke="#c6cbd2" stroke-width="0.7"/>
<line x1="487.7" y1="211.8" x2="475.5" y2="201.7" stroke="#aab4c2" stroke-width="0.8"/>
<line x1="54.4" y1="211.3" x2="54.4" y2="212.9" stroke="#c6cbd2" stroke-width="0.6"/>
<line x1="67.94" y1="211.32" x2="67.94" y2="212.92" stroke="#c6cbd2" stroke-width="0.6"/>
<line x1="81.48" y1="211.33" x2="81.48" y2="212.93" stroke="#c6cbd2" stroke-width="0.6"/>
<line x1="95.02" y1="211.35" x2="95.02" y2="212.95" stroke="#c6cbd2" stroke-width="0.6"/>
<line x1="108.56" y1="211.36" x2="108.56" y2="212.96" stroke="#c6cbd2" stroke-width="0.6"/>
<line x1="122.1" y1="211.38" x2="122.1" y2="212.98" stroke="#c6cbd2" stroke-width="0.6"/>
<line x1="135.64" y1="211.39" x2="135.64" y2="212.99" stroke="#c6cbd2" stroke-width="0.6"/>
<line x1="149.18" y1="211.41" x2="149.18" y2="213.01" stroke="#c6cbd2" stroke-width="0.6"/>
<line x1="162.72" y1="211.43" x2="162.72" y2="213.03" stroke="#c6cbd2" stroke-width="0.6"/>
<line x1="176.27" y1="211.44" x2="176.27" y2="213.04" stroke="#c6cbd2" stroke-width="0.6"/>
<line x1="189.81" y1="211.46" x2="189.81" y2="213.06" stroke="#c6cbd2" stroke-width="0.6"/>
<line x1="203.35" y1="211.47" x2="203.35" y2="213.07" stroke="#c6cbd2" stroke-width="0.6"/>
<line x1="216.89" y1="211.49" x2="216.89" y2="213.09" stroke="#c6cbd2" stroke-width="0.6"/>
<line x1="230.43" y1="211.5" x2="230.43" y2="213.1" stroke="#c6cbd2" stroke-width="0.6"/>
<line x1="243.97" y1="211.52" x2="243.97" y2="213.12" stroke="#c6cbd2" stroke-width="0.6"/>
<line x1="257.51" y1="211.53" x2="257.51" y2="213.13" stroke="#c6cbd2" stroke-width="0.6"/>
<line x1="271.05" y1="211.55" x2="271.05" y2="213.15" stroke="#c6cbd2" stroke-width="0.6"/>
<line x1="284.59" y1="211.57" x2="284.59" y2="213.17" stroke="#c6cbd2" stroke-width="0.6"/>
<line x1="298.13" y1="211.58" x2="298.13" y2="213.18" stroke="#c6cbd2" stroke-width="0.6"/>
<line x1="311.67" y1="211.6" x2="311.67" y2="213.2" stroke="#c6cbd2" stroke-width="0.6"/>
<line x1="325.21" y1="211.61" x2="325.21" y2="213.21" stroke="#c6cbd2" stroke-width="0.6"/>
<line x1="338.75" y1="211.63" x2="338.75" y2="213.23" stroke="#c6cbd2" stroke-width="0.6"/>
<line x1="352.29" y1="211.64" x2="352.29" y2="213.24" stroke="#c6cbd2" stroke-width="0.6"/>
<line x1="365.83" y1="211.66" x2="365.83" y2="213.26" stroke="#c6cbd2" stroke-width="0.6"/>
<line x1="379.38" y1="211.68" x2="379.38" y2="213.28" stroke="#c6cbd2" stroke-width="0.6"/>
<line x1="392.92" y1="211.69" x2="392.92" y2="213.29" stroke="#c6cbd2" stroke-width="0.6"/>
<line x1="406.46" y1="211.71" x2="406.46" y2="213.31" stroke="#c6cbd2" stroke-width="0.6"/>
<line x1="420" y1="211.72" x2="420" y2="213.32" stroke="#c6cbd2" stroke-width="0.6"/>
<line x1="433.54" y1="211.74" x2="433.54" y2="213.34" stroke="#c6cbd2" stroke-width="0.6"/>
<line x1="447.08" y1="211.75" x2="447.08" y2="213.35" stroke="#c6cbd2" stroke-width="0.6"/>
<line x1="460.62" y1="211.77" x2="460.62" y2="213.37" stroke="#c6cbd2" stroke-width="0.6"/>
<line x1="474.16" y1="211.78" x2="474.16" y2="213.38" stroke="#c6cbd2" stroke-width="0.6"/>
<line x1="487.7" y1="211.8" x2="487.7" y2="213.4" stroke="#c6cbd2" stroke-width="0.6"/>
<line x1="48.9" y1="156" x2="50.4" y2="156" stroke="#c6cbd2" stroke-width="0.6"/>
<line x1="50.2" y1="174.3" x2="51.7" y2="174.3" stroke="#c6cbd2" stroke-width="0.6"/>
<line x1="51.5" y1="192.7" x2="53" y2="192.7" stroke="#c6cbd2" stroke-width="0.6"/>
<line x1="52.9" y1="211" x2="54.4" y2="211" stroke="#c6cbd2" stroke-width="0.6"/>
<polygon points="61.3,172 68.8,170 69.6,207.7 63.6,207.7" fill="#cf584f"/>
<polygon points="68.8,170 71.7,168.6 73.5,204.2 69.6,207.7" fill="#b5433d"/>
<polygon points="61.3,172 64.5,169.6 71.7,168.6 68.8,170" fill="#dc766c"/>
<polygon points="75.8,196.2 81.5,194.2 82,207.7 76.5,207.7" fill="#cf584f"/>
<polygon points="81.5,194.2 85.5,192.2 86,204.5 82,207.7" fill="#b5433d"/>
<polygon points="75.8,196.2 80,192.8 85.5,192.2 81.5,194.2" fill="#dc766c"/>
<polygon points="89.1,208.2 94.7,208.2 99.9,202.1 94.3,202.1" fill="#4876b2"/>
<polygon points="89.1,208.2 94.7,208.2 94.7,207 89.1,207" fill="#31598e"/>
<polygon points="102.37,208.2 107.97,208.2 112.83,202.57 107.23,202.57" fill="#4876b2"/>
<polygon points="102.37,208.2 107.97,208.2 107.97,207 102.37,207" fill="#31598e"/>
<polygon points="115.65,208.2 121.25,208.2 125.75,203.06 120.15,203.06" fill="#4876b2"/>
<polygon points="115.65,208.2 121.25,208.2 121.25,207 115.65,207" fill="#31598e"/>
<polygon points="128.92,208.2 134.52,208.2 138.68,203.56 133.08,203.56" fill="#4876b2"/>
<polygon points="128.92,208.2 134.52,208.2 134.52,207 128.92,207" fill="#31598e"/>
<polygon points="142.2,208.2 147.8,208.2 151.6,203.6 146,203.6" fill="#4876b2"/>
<polygon points="142.2,208.2 147.8,208.2 147.8,207 142.2,207" fill="#31598e"/>
<polygon points="155.47,208.2 161.07,208.2 164.53,203.6 158.93,203.6" fill="#4876b2"/>
<polygon points="155.47,208.2 161.07,208.2 161.07,207 155.47,207" fill="#31598e"/>
<polygon points="168.75,208.2 174.35,208.2 177.45,203.6 171.85,203.6" fill="#4876b2"/>
<polygon points="168.75,208.2 174.35,208.2 174.35,207 168.75,207" fill="#31598e"/>
<polygon points="182.02,208.2 187.62,208.2 190.38,203.6 184.78,203.6" fill="#4876b2"/>
<polygon points="182.02,208.2 187.62,208.2 187.62,207 182.02,207" fill="#31598e"/>
<polygon points="195.29,208.2 200.89,208.2 203.31,203.6 197.71,203.6" fill="#4876b2"/>
<polygon points="195.29,208.2 200.89,208.2 200.89,207 195.29,207" fill="#31598e"/>
<polygon points="208.57,208.2 214.17,208.2 216.23,203.6 210.63,203.6" fill="#4876b2"/>
<polygon points="208.57,208.2 214.17,208.2 214.17,207 208.57,207" fill="#31598e"/>
<polygon points="221.84,208.2 227.44,208.2 229.16,203.6 223.56,203.6" fill="#4876b2"/>
<polygon points="221.84,208.2 227.44,208.2 227.44,207 221.84,207" fill="#31598e"/>
<polygon points="235.12,208.2 240.72,208.2 242.08,203.6 236.48,203.6" fill="#4876b2"/>
<polygon points="235.12,208.2 240.72,208.2 240.72,207 235.12,207" fill="#31598e"/>
<polygon points="248.39,208.2 253.99,208.2 255.01,203.6 249.41,203.6" fill="#4876b2"/>
<polygon points="248.39,208.2 253.99,208.2 253.99,207 248.39,207" fill="#31598e"/>
<polygon points="261.66,208.2 267.26,208.2 267.94,203.6 262.34,203.6" fill="#4876b2"/>
<polygon points="261.66,208.2 267.26,208.2 267.26,207 261.66,207" fill="#31598e"/>
<polygon points="274.94,208.2 280.54,208.2 280.86,203.6 275.26,203.6" fill="#4876b2"/>
<polygon points="274.94,208.2 280.54,208.2 280.54,207 274.94,207" fill="#31598e"/>
<polygon points="288.21,208.2 293.81,208.2 293.79,203.6 288.19,203.6" fill="#4876b2"/>
<polygon points="288.21,208.2 293.81,208.2 293.81,207 288.21,207" fill="#31598e"/>
<polygon points="301.49,208.2 307.09,208.2 306.71,203.6 301.11,203.6" fill="#4876b2"/>
<polygon points="301.49,208.2 307.09,208.2 307.09,207 301.49,207" fill="#31598e"/>
<polygon points="314.76,208.2 320.36,208.2 319.64,203.6 314.04,203.6" fill="#4876b2"/>
<polygon points="314.76,208.2 320.36,208.2 320.36,207 314.76,207" fill="#31598e"/>
<polygon points="328.04,208.2 333.64,208.2 332.56,203.6 326.96,203.6" fill="#4876b2"/>
<polygon points="328.04,208.2 333.64,208.2 333.64,207 328.04,207" fill="#31598e"/>
<polygon points="341.31,208.2 346.91,208.2 345.49,203.6 339.89,203.6" fill="#4876b2"/>
<polygon points="341.31,208.2 346.91,208.2 346.91,207 341.31,207" fill="#31598e"/>
<polygon points="354.58,208.2 360.18,208.2 358.42,203.6 352.82,203.6" fill="#4876b2"/>
<polygon points="354.58,208.2 360.18,208.2 360.18,207 354.58,207" fill="#31598e"/>
<polygon points="367.86,208.2 373.46,208.2 371.34,203.6 365.74,203.6" fill="#4876b2"/>
<polygon points="367.86,208.2 373.46,208.2 373.46,207 367.86,207" fill="#31598e"/>
<polygon points="381.13,208.2 386.73,208.2 384.27,203.6 378.67,203.6" fill="#4876b2"/>
<polygon points="381.13,208.2 386.73,208.2 386.73,207 381.13,207" fill="#31598e"/>
<polygon points="394.41,208.2 400.01,208.2 397.19,203.6 391.59,203.6" fill="#4876b2"/>
<polygon points="394.41,208.2 400.01,208.2 400.01,207 394.41,207" fill="#31598e"/>
<polygon points="407.68,208.2 413.28,208.2 410.12,203.6 404.52,203.6" fill="#4876b2"/>
<polygon points="407.68,208.2 413.28,208.2 413.28,207 407.68,207" fill="#31598e"/>
<polygon points="420.9,208.2 426.5,208.2 423.1,203.6 417.5,203.6" fill="#4876b2"/>
<polygon points="420.9,208.2 426.5,208.2 426.5,207 420.9,207" fill="#31598e"/>
<polygon points="434,208.2 439.6,208.2 436.2,203.6 430.6,203.6" fill="#4876b2"/>
<polygon points="434,208.2 439.6,208.2 439.6,207 434,207" fill="#31598e"/>
<polygon points="447.1,208.2 452.7,208.2 449.3,203.6 443.7,203.6" fill="#4876b2"/>
<polygon points="447.1,208.2 452.7,208.2 452.7,207 447.1,207" fill="#31598e"/>
<polygon points="460.2,208.2 465.8,208.2 462.4,203.6 456.8,203.6" fill="#4876b2"/>
<polygon points="460.2,208.2 465.8,208.2 465.8,207 460.2,207" fill="#31598e"/>
<polygon points="473.3,208.2 478.9,208.2 475.5,203.6 469.9,203.6" fill="#4876b2"/>
<polygon points="473.3,208.2 478.9,208.2 478.9,207 473.3,207" fill="#31598e"/>
<text x="0" y="0" font-size="8.3" text-anchor="end" font-style="italic" fill="#231f20" stroke="#231f20" stroke-width="0.2" transform="translate(64.8 224) rotate(-52) scale(0.9 1)">HN5</text>
<text x="0" y="0" font-size="8.3" text-anchor="end" font-style="italic" fill="#231f20" stroke="#231f20" stroke-width="0.2" transform="translate(78.36 224) rotate(-52) scale(0.9 1)">SQ20B</text>
<text x="0" y="0" font-size="8.3" text-anchor="end" font-style="italic" fill="#231f20" stroke="#231f20" stroke-width="0.2" transform="translate(91.92 224) rotate(-52) scale(0.9 1)">CP-A</text>
<text x="0" y="0" font-size="8.3" text-anchor="end" font-style="italic" fill="#231f20" stroke="#231f20" stroke-width="0.2" transform="translate(105.48 224) rotate(-52) scale(0.9 1)">SNU-5</text>
<text x="0" y="0" font-size="8.3" text-anchor="end" font-style="italic" fill="#231f20" stroke="#231f20" stroke-width="0.2" transform="translate(119.05 224) rotate(-52) scale(0.9 1)">CAT-2R3</text>
<text x="0" y="0" font-size="8.3" text-anchor="end" font-style="italic" fill="#231f20" stroke="#231f20" stroke-width="0.2" transform="translate(132.61 224) rotate(-52) scale(0.9 1)">SNU-1</text>
<text x="0" y="0" font-size="8.3" text-anchor="end" font-style="italic" fill="#231f20" stroke="#231f20" stroke-width="0.2" transform="translate(146.17 224) rotate(-52) scale(0.9 1)">CAT-17</text>
<text x="0" y="0" font-size="8.3" text-anchor="end" font-style="italic" fill="#231f20" stroke="#231f20" stroke-width="0.2" transform="translate(159.73 224) rotate(-52) scale(0.9 1)">CAT-12</text>
<text x="0" y="0" font-size="8.3" text-anchor="end" font-style="italic" fill="#231f20" stroke="#231f20" stroke-width="0.2" transform="translate(173.29 224) rotate(-52) scale(0.9 1)">OE33</text>
<text x="0" y="0" font-size="8.3" text-anchor="end" font-style="italic" fill="#231f20" stroke="#231f20" stroke-width="0.2" transform="translate(186.85 224) rotate(-52) scale(0.9 1)">CAT-14</text>
<text x="0" y="0" font-size="8.3" text-anchor="end" font-style="italic" fill="#231f20" stroke="#231f20" stroke-width="0.2" transform="translate(200.41 224) rotate(-52) scale(0.9 1)">SNU-16</text>
<text x="0" y="0" font-size="8.3" text-anchor="end" font-style="italic" fill="#231f20" stroke="#231f20" stroke-width="0.2" transform="translate(213.97 224) rotate(-52) scale(0.9 1)">KATOIII</text>
<text x="0" y="0" font-size="8.3" text-anchor="end" font-style="italic" fill="#231f20" stroke="#231f20" stroke-width="0.2" transform="translate(227.54 224) rotate(-52) scale(0.9 1)">NCI-N87</text>
<text x="0" y="0" font-size="8.3" text-anchor="end" font-style="italic" fill="#231f20" stroke="#231f20" stroke-width="0.2" transform="translate(241.1 224) rotate(-52) scale(0.9 1)">CAT2R2</text>
<text x="0" y="0" font-size="8.3" text-anchor="end" font-style="italic" fill="#231f20" stroke="#231f20" stroke-width="0.2" transform="translate(254.66 224) rotate(-52) scale(0.9 1)">MKN-1</text>
<text x="0" y="0" font-size="8.3" text-anchor="end" font-style="italic" fill="#231f20" stroke="#231f20" stroke-width="0.2" transform="translate(268.22 224) rotate(-52) scale(0.9 1)">CAT-15</text>
<text x="0" y="0" font-size="8.3" text-anchor="end" font-style="italic" fill="#231f20" stroke="#231f20" stroke-width="0.2" transform="translate(281.78 224) rotate(-52) scale(0.9 1)">CAT-16</text>
<text x="0" y="0" font-size="8.3" text-anchor="end" font-style="italic" fill="#231f20" stroke="#231f20" stroke-width="0.2" transform="translate(295.34 224) rotate(-52) scale(0.9 1)">AGS-KD</text>
<text x="0" y="0" font-size="8.3" text-anchor="end" font-style="italic" fill="#231f20" stroke="#231f20" stroke-width="0.2" transform="translate(308.9 224) rotate(-52) scale(0.9 1)">AGS-WT</text>
<text x="0" y="0" font-size="8.3" text-anchor="end" font-style="italic" fill="#231f20" stroke="#231f20" stroke-width="0.2" transform="translate(322.46 224) rotate(-52) scale(0.9 1)">MKN-45</text>
<text x="0" y="0" font-size="8.3" text-anchor="end" font-style="italic" fill="#231f20" stroke="#231f20" stroke-width="0.2" transform="translate(336.03 224) rotate(-52) scale(0.9 1)">CP-B</text>
<text x="0" y="0" font-size="8.3" text-anchor="end" font-style="italic" fill="#231f20" stroke="#231f20" stroke-width="0.2" transform="translate(349.59 224) rotate(-52) scale(0.9 1)">CP-C</text>
<text x="0" y="0" font-size="8.3" text-anchor="end" font-style="italic" fill="#231f20" stroke="#231f20" stroke-width="0.2" transform="translate(363.15 224) rotate(-52) scale(0.9 1)">Cat2</text>
<text x="0" y="0" font-size="8.3" text-anchor="end" font-style="italic" fill="#231f20" stroke="#231f20" stroke-width="0.2" transform="translate(376.71 224) rotate(-52) scale(0.9 1)">CAT-3</text>
<text x="0" y="0" font-size="8.3" text-anchor="end" font-style="italic" fill="#231f20" stroke="#231f20" stroke-width="0.2" transform="translate(390.27 224) rotate(-52) scale(0.9 1)">CAT-2R3</text>
<text x="0" y="0" font-size="8.3" text-anchor="end" font-style="italic" fill="#231f20" stroke="#231f20" stroke-width="0.2" transform="translate(403.83 224) rotate(-52) scale(0.9 1)">OE19</text>
<text x="0" y="0" font-size="8.3" text-anchor="end" font-style="italic" fill="#231f20" stroke="#231f20" stroke-width="0.2" transform="translate(417.39 224) rotate(-52) scale(0.9 1)">CAT-4</text>
<text x="0" y="0" font-size="8.3" text-anchor="end" font-style="italic" fill="#231f20" stroke="#231f20" stroke-width="0.2" transform="translate(430.95 224) rotate(-52) scale(0.9 1)">CP-D</text>
<text x="0" y="0" font-size="8.3" text-anchor="end" font-style="italic" fill="#231f20" stroke="#231f20" stroke-width="0.2" transform="translate(444.52 224) rotate(-52) scale(0.9 1)">AGS-SC</text>
<text x="0" y="0" font-size="8.3" text-anchor="end" font-style="italic" fill="#231f20" stroke="#231f20" stroke-width="0.2" transform="translate(458.08 224) rotate(-52) scale(0.9 1)">Hs746t</text>
<text x="0" y="0" font-size="8.3" text-anchor="end" font-style="italic" fill="#231f20" stroke="#231f20" stroke-width="0.2" transform="translate(471.64 224) rotate(-52) scale(0.9 1)">HGC-27</text>
<text x="0" y="0" font-size="8.3" text-anchor="end" font-style="italic" fill="#231f20" stroke="#231f20" stroke-width="0.2" transform="translate(485.2 224) rotate(-52) scale(0.9 1)">GM14667</text>
<text x="0" y="0" font-size="9" text-anchor="middle" fill="#231f20" stroke="#231f20" stroke-width="0.2" transform="translate(270.3 267.7) rotate(0.03)">Cell line</text>
<rect x="256.9" y="146.4" width="75.9" height="40" fill="#fff" stroke="#2a2a2a" stroke-width="1.1"/>
<text x="0" y="0" font-size="9" text-anchor="middle" fill="#c4686a" stroke="#c4686a" stroke-width="0.2" transform="translate(294 165) rotate(0.03)">Amplified</text>
<text x="0" y="0" font-size="9" text-anchor="middle" fill="#6a91bf" stroke="#6a91bf" stroke-width="0.2" transform="translate(293.7 174.8) rotate(0.03)">Nonamplified</text>
<!-- Panel D -->
<text x="0" y="0" font-size="9.1" text-anchor="middle" fill="#231f20" stroke="#231f20" stroke-width="0.2" transform="translate(17.8 359.5) rotate(-90) scale(0.957 1)">EGFR amol/µg</text>
<text x="0" y="0" font-size="8" text-anchor="end" fill="#231f20" stroke="#231f20" stroke-width="0.2" transform="translate(50.8 299) rotate(0.03)">25,000</text>
<text x="0" y="0" font-size="8" text-anchor="end" fill="#231f20" stroke="#231f20" stroke-width="0.2" transform="translate(50.8 324.2) rotate(0.03)">20,000</text>
<text x="0" y="0" font-size="8" text-anchor="end" fill="#231f20" stroke="#231f20" stroke-width="0.2" transform="translate(50.8 349.6) rotate(0.03)">15,000</text>
<text x="0" y="0" font-size="8" text-anchor="end" fill="#231f20" stroke="#231f20" stroke-width="0.2" transform="translate(50.8 375.4) rotate(0.03)">10,000</text>
<text x="0" y="0" font-size="8" text-anchor="end" fill="#231f20" stroke="#231f20" stroke-width="0.2" transform="translate(50.8 400.8) rotate(0.03)">5,000</text>
<text x="0" y="0" font-size="8" text-anchor="end" fill="#231f20" stroke="#231f20" stroke-width="0.2" transform="translate(53.3 426.6) rotate(0.03)">0</text>
<line x1="57.4" y1="294" x2="57.4" y2="424" stroke="#c4c8cf" stroke-width="0.8"/>
<line x1="55.3" y1="294.5" x2="57.4" y2="294.5" stroke="#c4c8cf" stroke-width="0.7"/>
<line x1="55.3" y1="320.1" x2="57.4" y2="320.1" stroke="#c4c8cf" stroke-width="0.7"/>
<line x1="55.3" y1="345.8" x2="57.4" y2="345.8" stroke="#c4c8cf" stroke-width="0.7"/>
<line x1="55.3" y1="371.5" x2="57.4" y2="371.5" stroke="#c4c8cf" stroke-width="0.7"/>
<line x1="55.3" y1="397.2" x2="57.4" y2="397.2" stroke="#c4c8cf" stroke-width="0.7"/>
<line x1="55.3" y1="422.9" x2="57.4" y2="422.9" stroke="#c4c8cf" stroke-width="0.7"/>
<line x1="56" y1="423.8" x2="118" y2="423.8" stroke="#dcb8b6" stroke-width="1.2"/>
<line x1="118" y1="423" x2="294" y2="423" stroke="#8eaad2" stroke-width="1.4"/>
<rect x="60.8" y="319" width="3.4" height="104.3" fill="url(#gRed)"/>
<rect x="68.13" y="348.3" width="3.4" height="75" fill="url(#gRed)"/>
<rect x="75.46" y="357.8" width="3.4" height="65.5" fill="url(#gRed)"/>
<rect x="82.79" y="385.2" width="3.4" height="38.1" fill="url(#gRed)"/>
<rect x="90.12" y="387" width="3.4" height="36.3" fill="url(#gRed)"/>
<rect x="97.45" y="398" width="3.4" height="25.3" fill="url(#gRed)"/>
<rect x="104.78" y="405" width="3.4" height="18.3" fill="url(#gRed)"/>
<rect x="112.11" y="407.7" width="3.4" height="15.6" fill="url(#gRed)"/>
<rect x="119.7" y="417.6" width="3.8" height="6" fill="url(#gBlue)" rx="0.8"/>
<ellipse cx="121.6" cy="418.1" rx="1.9" ry="0.7" fill="#8fb4de"/>
<rect x="127" y="417.87" width="3.8" height="5.73" fill="url(#gBlue)" rx="0.8"/>
<ellipse cx="128.9" cy="418.37" rx="1.9" ry="0.7" fill="#8fb4de"/>
<rect x="134.3" y="418.03" width="3.8" height="5.57" fill="url(#gBlue)" rx="0.8"/>
<ellipse cx="136.2" cy="418.53" rx="1.9" ry="0.7" fill="#8fb4de"/>
<rect x="141.6" y="418.18" width="3.8" height="5.42" fill="url(#gBlue)" rx="0.8"/>
<ellipse cx="143.5" cy="418.68" rx="1.9" ry="0.7" fill="#8fb4de"/>
<rect x="148.9" y="418.31" width="3.8" height="5.29" fill="url(#gBlue)" rx="0.8"/>
<ellipse cx="150.8" cy="418.81" rx="1.9" ry="0.7" fill="#8fb4de"/>
<rect x="156.2" y="418.42" width="3.8" height="5.18" fill="url(#gBlue)" rx="0.8"/>
<ellipse cx="158.1" cy="418.92" rx="1.9" ry="0.7" fill="#8fb4de"/>
<rect x="163.5" y="418.54" width="3.8" height="5.06" fill="url(#gBlue)" rx="0.8"/>
<ellipse cx="165.4" cy="419.04" rx="1.9" ry="0.7" fill="#8fb4de"/>
<rect x="170.8" y="418.64" width="3.8" height="4.96" fill="url(#gBlue)" rx="0.8"/>
<ellipse cx="172.7" cy="419.14" rx="1.9" ry="0.7" fill="#8fb4de"/>
<rect x="178.1" y="418.75" width="3.8" height="4.85" fill="url(#gBlue)" rx="0.8"/>
<ellipse cx="180" cy="419.25" rx="1.9" ry="0.7" fill="#8fb4de"/>
<rect x="185.4" y="418.84" width="3.8" height="4.76" fill="url(#gBlue)" rx="0.8"/>
<ellipse cx="187.3" cy="419.34" rx="1.9" ry="0.7" fill="#8fb4de"/>
<rect x="192.7" y="418.94" width="3.8" height="4.66" fill="url(#gBlue)" rx="0.8"/>
<ellipse cx="194.6" cy="419.44" rx="1.9" ry="0.7" fill="#8fb4de"/>
<rect x="200" y="419.03" width="3.8" height="4.57" fill="url(#gBlue)" rx="0.8"/>
<ellipse cx="201.9" cy="419.53" rx="1.9" ry="0.7" fill="#8fb4de"/>
<rect x="207.3" y="419.12" width="3.8" height="4.48" fill="url(#gBlue)" rx="0.8"/>
<ellipse cx="209.2" cy="419.62" rx="1.9" ry="0.7" fill="#8fb4de"/>
<rect x="214.6" y="419.21" width="3.8" height="4.39" fill="url(#gBlue)" rx="0.8"/>
<ellipse cx="216.5" cy="419.71" rx="1.9" ry="0.7" fill="#8fb4de"/>
<rect x="221.9" y="419.3" width="3.8" height="4.3" fill="url(#gBlue)" rx="0.8"/>
<ellipse cx="223.8" cy="419.8" rx="1.9" ry="0.7" fill="#8fb4de"/>
<rect x="229.2" y="419.38" width="3.8" height="4.22" fill="url(#gBlue)" rx="0.8"/>
<ellipse cx="231.1" cy="419.88" rx="1.9" ry="0.7" fill="#8fb4de"/>
<rect x="236.5" y="419.46" width="3.8" height="4.14" fill="url(#gBlue)" rx="0.8"/>
<ellipse cx="238.4" cy="419.96" rx="1.9" ry="0.7" fill="#8fb4de"/>
<rect x="243.8" y="419.54" width="3.8" height="4.06" fill="url(#gBlue)" rx="0.8"/>
<ellipse cx="245.7" cy="420.04" rx="1.9" ry="0.7" fill="#8fb4de"/>
<rect x="251.1" y="419.62" width="3.8" height="3.98" fill="url(#gBlue)" rx="0.8"/>
<ellipse cx="253" cy="420.12" rx="1.9" ry="0.7" fill="#8fb4de"/>
<rect x="258.4" y="419.7" width="3.8" height="3.9" fill="url(#gBlue)" rx="0.8"/>
<ellipse cx="260.3" cy="420.2" rx="1.9" ry="0.7" fill="#8fb4de"/>
<rect x="265.7" y="419.78" width="3.8" height="3.82" fill="url(#gBlue)" rx="0.8"/>
<ellipse cx="267.6" cy="420.28" rx="1.9" ry="0.7" fill="#8fb4de"/>
<rect x="273" y="419.85" width="3.8" height="3.75" fill="url(#gBlue)" rx="0.8"/>
<ellipse cx="274.9" cy="420.35" rx="1.9" ry="0.7" fill="#8fb4de"/>
<rect x="280.3" y="419.93" width="3.8" height="3.67" fill="url(#gBlue)" rx="0.8"/>
<ellipse cx="282.2" cy="420.43" rx="1.9" ry="0.7" fill="#8fb4de"/>
<rect x="287.6" y="420" width="3.8" height="3.6" fill="url(#gBlue)" rx="0.8"/>
<ellipse cx="289.5" cy="420.5" rx="1.9" ry="0.7" fill="#8fb4de"/>
<text x="0" y="0" font-size="8.6" text-anchor="middle" fill="#231f20" stroke="#231f20" stroke-width="0.2" transform="translate(175.7 435.7) rotate(0.03)">Patient</text>
<rect x="77.8" y="300.8" width="74.8" height="39" fill="#fff" stroke="#2a2a2a" stroke-width="1.1"/>
<text x="0" y="0" font-size="9" text-anchor="middle" fill="#c4686a" stroke="#c4686a" stroke-width="0.2" transform="translate(116 319) rotate(0.03)">Amplified</text>
<text x="0" y="0" font-size="9" text-anchor="middle" fill="#6a91bf" stroke="#6a91bf" stroke-width="0.2" transform="translate(115.9 329.7) rotate(0.03)">Nonamplified</text>
<text x="0" y="0" font-size="7" text-anchor="end" fill="#231f20" stroke="#231f20" stroke-width="0.2" transform="translate(204.6 307.8) rotate(0.03)">14,000</text>
<text x="0" y="0" font-size="7" text-anchor="end" fill="#231f20" stroke="#231f20" stroke-width="0.2" transform="translate(204.6 319.3) rotate(0.03)">12,000</text>
<text x="0" y="0" font-size="7" text-anchor="end" fill="#231f20" stroke="#231f20" stroke-width="0.2" transform="translate(204.6 330) rotate(0.03)">10,000</text>
<text x="0" y="0" font-size="7" text-anchor="end" fill="#231f20" stroke="#231f20" stroke-width="0.2" transform="translate(204.6 341.5) rotate(0.03)">8,000</text>
<text x="0" y="0" font-size="7" text-anchor="end" fill="#231f20" stroke="#231f20" stroke-width="0.2" transform="translate(204.6 352.5) rotate(0.03)">6,000</text>
<text x="0" y="0" font-size="7" text-anchor="end" fill="#231f20" stroke="#231f20" stroke-width="0.2" transform="translate(204.6 363.2) rotate(0.03)">4,000</text>
<text x="0" y="0" font-size="7" text-anchor="end" fill="#231f20" stroke="#231f20" stroke-width="0.2" transform="translate(204.6 374.7) rotate(0.03)">2,000</text>
<text x="0" y="0" font-size="7" text-anchor="end" fill="#231f20" stroke="#231f20" stroke-width="0.2" transform="translate(204.6 385.7) rotate(0.03)">0</text>
<polygon points="207.5,382.3 308.4,382.3 312.8,376 210.6,376" fill="#fdfdfd" stroke="#d6d8dc" stroke-width="0.7"/>
<polygon points="212.5,311.4 224.1,311.4 224.1,380.5 212.5,380.5" fill="#d25c53"/>
<polygon points="224.1,311.4 225.7,309.6 225.7,378.7 224.1,380.5" fill="#a63a35"/>
<polygon points="212.5,311.4 214.1,309.6 225.7,309.6 224.1,311.4" fill="#e08a80"/>
<polygon points="232.8,352.2 244.3,352.2 244.3,380.5 232.8,380.5" fill="#d25c53"/>
<polygon points="244.3,352.2 245.9,350.4 245.9,378.7 244.3,380.5" fill="#a63a35"/>
<polygon points="232.8,352.2 234.4,350.4 245.9,350.4 244.3,352.2" fill="#e08a80"/>
<polygon points="253,369 264.9,369 264.9,380.5 253,380.5" fill="#d25c53"/>
<polygon points="264.9,369 266.5,367.2 266.5,378.7 264.9,380.5" fill="#a63a35"/>
<polygon points="253,369 254.6,367.2 266.5,367.2 264.9,369" fill="#e08a80"/>
<polygon points="273.7,311.4 285.5,311.4 285.5,380.5 273.7,380.5" fill="#d25c53"/>
<polygon points="285.5,311.4 287.1,309.6 287.1,378.7 285.5,380.5" fill="#a63a35"/>
<polygon points="273.7,311.4 275.3,309.6 287.1,309.6 285.5,311.4" fill="#e08a80"/>
<text x="0" y="0" font-size="7" text-anchor="middle" fill="#231f20" stroke="#231f20" stroke-width="0.2" transform="translate(216.6 390.4) rotate(0.03)">Pt</text>
<text x="0" y="0" font-size="7" text-anchor="middle" fill="#231f20" stroke="#231f20" stroke-width="0.2" transform="translate(216.6 400.2) rotate(0.03)">2</text>
<text x="0" y="0" font-size="7" text-anchor="middle" fill="#231f20" stroke="#231f20" stroke-width="0.2" transform="translate(239.2 390.4) rotate(0.03)">Pt</text>
<text x="0" y="0" font-size="7" text-anchor="middle" fill="#231f20" stroke="#231f20" stroke-width="0.2" transform="translate(239.2 400.2) rotate(0.03)">4</text>
<text x="0" y="0" font-size="7" text-anchor="middle" fill="#231f20" stroke="#231f20" stroke-width="0.2" transform="translate(259.6 390.4) rotate(0.03)">Pt</text>
<text x="0" y="0" font-size="7" text-anchor="middle" fill="#231f20" stroke="#231f20" stroke-width="0.2" transform="translate(259.6 400.2) rotate(0.03)">7</text>
<text x="0" y="0" font-size="7" text-anchor="middle" fill="#231f20" stroke="#231f20" stroke-width="0.2" transform="translate(279 390.4) rotate(0.03)">Pt</text>
<text x="0" y="0" font-size="7" text-anchor="middle" fill="#231f20" stroke="#231f20" stroke-width="0.2" transform="translate(279 400.2) rotate(0.03)">8</text>
<!-- Panel E -->
<line x1="361.5" y1="403.7" x2="516" y2="403.7" stroke="#dedede" stroke-width="0.8"/>
<text x="0" y="0" font-size="8" text-anchor="end" fill="#231f20" stroke="#231f20" stroke-width="0.2" transform="translate(357.9 406.8) rotate(0.03)">0</text>
<line x1="361.5" y1="390.33" x2="516" y2="390.33" stroke="#dedede" stroke-width="0.8"/>
<text x="0" y="0" font-size="8" text-anchor="end" fill="#231f20" stroke="#231f20" stroke-width="0.2" transform="translate(357.9 393.43) rotate(0.03)">10</text>
<line x1="361.5" y1="376.96" x2="516" y2="376.96" stroke="#dedede" stroke-width="0.8"/>
<text x="0" y="0" font-size="8" text-anchor="end" fill="#231f20" stroke="#231f20" stroke-width="0.2" transform="translate(357.9 380.06) rotate(0.03)">20</text>
<line x1="361.5" y1="363.59" x2="516" y2="363.59" stroke="#dedede" stroke-width="0.8"/>
<text x="0" y="0" font-size="8" text-anchor="end" fill="#231f20" stroke="#231f20" stroke-width="0.2" transform="translate(357.9 366.69) rotate(0.03)">30</text>
<line x1="361.5" y1="350.22" x2="516" y2="350.22" stroke="#dedede" stroke-width="0.8"/>
<text x="0" y="0" font-size="8" text-anchor="end" fill="#231f20" stroke="#231f20" stroke-width="0.2" transform="translate(357.9 353.32) rotate(0.03)">40</text>
<line x1="361.5" y1="336.85" x2="516" y2="336.85" stroke="#dedede" stroke-width="0.8"/>
<text x="0" y="0" font-size="8" text-anchor="end" fill="#231f20" stroke="#231f20" stroke-width="0.2" transform="translate(357.9 339.95) rotate(0.03)">50</text>
<line x1="361.5" y1="323.48" x2="516" y2="323.48" stroke="#dedede" stroke-width="0.8"/>
<text x="0" y="0" font-size="8" text-anchor="end" fill="#231f20" stroke="#231f20" stroke-width="0.2" transform="translate(357.9 326.58) rotate(0.03)">60</text>
<line x1="361.5" y1="310.11" x2="516" y2="310.11" stroke="#dedede" stroke-width="0.8"/>
<text x="0" y="0" font-size="8" text-anchor="end" fill="#231f20" stroke="#231f20" stroke-width="0.2" transform="translate(357.9 313.21) rotate(0.03)">70</text>
<line x1="361.5" y1="296.74" x2="516" y2="296.74" stroke="#dedede" stroke-width="0.8"/>
<text x="0" y="0" font-size="8" text-anchor="end" fill="#231f20" stroke="#231f20" stroke-width="0.2" transform="translate(357.9 299.84) rotate(0.03)">89</text>
<line x1="361.5" y1="283.37" x2="516" y2="283.37" stroke="#dedede" stroke-width="0.8"/>
<text x="0" y="0" font-size="8" text-anchor="end" fill="#231f20" stroke="#231f20" stroke-width="0.2" transform="translate(357.9 286.47) rotate(0.03)">90</text>
<rect x="368.8" y="313.45" width="16.6" height="90.25" fill="#416cba"/>
<rect x="399.6" y="335.51" width="16.4" height="68.19" fill="#416cba"/>
<rect x="430.8" y="327.49" width="16.2" height="76.21" fill="#416cba"/>
<rect x="461.5" y="292.73" width="16.2" height="110.97" fill="#416cba"/>
<rect x="492.3" y="367.6" width="16.2" height="36.1" fill="#416cba"/>
<text x="0" y="0" font-size="8" text-anchor="middle" fill="#231f20" stroke="#231f20" stroke-width="0.2" transform="translate(377 413.6) rotate(0.03)">≥100</text>
<text x="0" y="0" font-size="8" text-anchor="middle" fill="#231f20" stroke="#231f20" stroke-width="0.2" transform="translate(408 413.6) rotate(0.03)">50–99</text>
<text x="0" y="0" font-size="8" text-anchor="middle" fill="#231f20" stroke="#231f20" stroke-width="0.2" transform="translate(439 413.6) rotate(0.03)">20–49</text>
<text x="0" y="0" font-size="8" text-anchor="middle" fill="#231f20" stroke="#231f20" stroke-width="0.2" transform="translate(469.6 413.6) rotate(0.03)">8–19</text>
<text x="0" y="0" font-size="8" text-anchor="middle" fill="#231f20" stroke="#231f20" stroke-width="0.2" transform="translate(500.4 413.6) rotate(0.03)">6–7</text>
<text transform="translate(439 427.8) rotate(0.03)" font-size="8.6" text-anchor="middle" fill="#231f20" stroke="#231f20" stroke-width="0.2"><tspan font-style="italic">EGFR</tspan> copy number</text>
<text font-size="8.9" text-anchor="middle" fill="#231f20" stroke="#231f20" stroke-width="0.2" transform="translate(331.5 343.2) rotate(-90)"><tspan x="0" y="0">No. of <tspan font-style="italic">EGFR</tspan>-amplified</tspan><tspan x="0" y="10.2">GEA cases</tspan></text>
<!-- Panel F -->
<line x1="27" y1="696.3" x2="285" y2="696.3" stroke="#dcdcdc" stroke-width="0.8"/>
<text x="0" y="0" font-size="8" text-anchor="end" fill="#231f20" stroke="#231f20" stroke-width="0.2" transform="translate(23.8 699.4) rotate(0.03)">0</text>
<line x1="27" y1="674.22" x2="285" y2="674.22" stroke="#f0f0f0" stroke-width="0.8"/>
<text x="0" y="0" font-size="8" text-anchor="end" fill="#231f20" stroke="#231f20" stroke-width="0.2" transform="translate(23.8 677.32) rotate(0.03)">10</text>
<line x1="27" y1="652.14" x2="285" y2="652.14" stroke="#f0f0f0" stroke-width="0.8"/>
<text x="0" y="0" font-size="8" text-anchor="end" fill="#231f20" stroke="#231f20" stroke-width="0.2" transform="translate(23.8 655.24) rotate(0.03)">20</text>
<line x1="27" y1="630.06" x2="285" y2="630.06" stroke="#f0f0f0" stroke-width="0.8"/>
<text x="0" y="0" font-size="8" text-anchor="end" fill="#231f20" stroke="#231f20" stroke-width="0.2" transform="translate(23.8 633.16) rotate(0.03)">30</text>
<line x1="27" y1="607.98" x2="285" y2="607.98" stroke="#f0f0f0" stroke-width="0.8"/>
<text x="0" y="0" font-size="8" text-anchor="end" fill="#231f20" stroke="#231f20" stroke-width="0.2" transform="translate(23.8 611.08) rotate(0.03)">40</text>
<line x1="27" y1="585.9" x2="285" y2="585.9" stroke="#f0f0f0" stroke-width="0.8"/>
<text x="0" y="0" font-size="8" text-anchor="end" fill="#231f20" stroke="#231f20" stroke-width="0.2" transform="translate(23.8 589) rotate(0.03)">50</text>
<line x1="27" y1="563.82" x2="285" y2="563.82" stroke="#f0f0f0" stroke-width="0.8"/>
<text x="0" y="0" font-size="8" text-anchor="end" fill="#231f20" stroke="#231f20" stroke-width="0.2" transform="translate(23.8 566.92) rotate(0.03)">60</text>
<line x1="27" y1="541.74" x2="285" y2="541.74" stroke="#f0f0f0" stroke-width="0.8"/>
<text x="0" y="0" font-size="8" text-anchor="end" fill="#231f20" stroke="#231f20" stroke-width="0.2" transform="translate(23.8 544.84) rotate(0.03)">70</text>
<line x1="27" y1="519.66" x2="285" y2="519.66" stroke="#f0f0f0" stroke-width="0.8"/>
<text x="0" y="0" font-size="8" text-anchor="end" fill="#231f20" stroke="#231f20" stroke-width="0.2" transform="translate(23.8 522.76) rotate(0.03)">80</text>
<line x1="27" y1="497.58" x2="285" y2="497.58" stroke="#f0f0f0" stroke-width="0.8"/>
<text x="0" y="0" font-size="8" text-anchor="end" fill="#231f20" stroke="#231f20" stroke-width="0.2" transform="translate(23.8 500.68) rotate(0.03)">90</text>
<line x1="27" y1="475.5" x2="285" y2="475.5" stroke="#f0f0f0" stroke-width="0.8"/>
<text x="0" y="0" font-size="8" text-anchor="end" fill="#231f20" stroke="#231f20" stroke-width="0.2" transform="translate(23.8 478.6) rotate(0.03)">100</text>
<text x="0" y="0" font-size="9.1" text-anchor="middle" fill="#231f20" stroke="#231f20" stroke-width="0.2" transform="translate(8.2 585.9) rotate(-90) scale(0.974 1)">% Altered cases</text>
<rect x="29.65" y="679.74" width="4.5" height="16.56" fill="#4474c2"/>
<rect x="29.65" y="475.5" width="4.5" height="204.24" fill="#ef8a3a"/>
<text x="0" y="0" font-size="8.2" text-anchor="end" font-style="italic" fill="#231f20" stroke="#231f20" stroke-width="0.2" transform="translate(36.9 704.4) rotate(-51) scale(0.96 1)">EGFR</text>
<rect x="41.35" y="674.22" width="4.5" height="22.08" fill="#4474c2"/>
<rect x="41.35" y="495.37" width="4.5" height="178.85" fill="#a4a8ad"/>
<rect x="41.35" y="493.61" width="4.5" height="1.77" fill="#f6c628"/>
<text x="0" y="0" font-size="8.2" text-anchor="end" font-style="italic" fill="#231f20" stroke="#231f20" stroke-width="0.2" transform="translate(48.6 704.4) rotate(-51) scale(0.96 1)">TP53</text>
<rect x="53.06" y="673.12" width="4.5" height="23.18" fill="#ef8a3a"/>
<rect x="53.06" y="647.72" width="4.5" height="25.39" fill="#a4a8ad"/>
<rect x="53.06" y="643.31" width="4.5" height="4.42" fill="#f6c628"/>
<text x="0" y="0" font-size="8.2" text-anchor="end" font-style="italic" fill="#231f20" stroke="#231f20" stroke-width="0.2" transform="translate(60.31 704.4) rotate(-51) scale(0.96 1)">CDKN2A</text>
<rect x="64.77" y="648.61" width="4.5" height="47.69" fill="#ef8a3a"/>
<text x="0" y="0" font-size="8.2" text-anchor="end" font-style="italic" fill="#231f20" stroke="#231f20" stroke-width="0.2" transform="translate(72.02 704.4) rotate(-51) scale(0.96 1)">MYC</text>
<rect x="76.47" y="664.28" width="4.5" height="32.02" fill="#ef8a3a"/>
<rect x="76.47" y="660.97" width="4.5" height="3.31" fill="#a4a8ad"/>
<text x="0" y="0" font-size="8.2" text-anchor="end" font-style="italic" fill="#231f20" stroke="#231f20" stroke-width="0.2" transform="translate(83.72 704.4) rotate(-51) scale(0.96 1)">ERBB2</text>
<rect x="88.17" y="664.28" width="4.5" height="32.02" fill="#ef8a3a"/>
<rect x="88.17" y="662.52" width="4.5" height="1.77" fill="#a4a8ad"/>
<text x="0" y="0" font-size="8.2" text-anchor="end" font-style="italic" fill="#231f20" stroke="#231f20" stroke-width="0.2" transform="translate(95.42 704.4) rotate(-51) scale(0.96 1)">KRAS</text>
<rect x="99.88" y="665.83" width="4.5" height="30.47" fill="#ef8a3a"/>
<text x="0" y="0" font-size="8.2" text-anchor="end" font-style="italic" fill="#231f20" stroke="#231f20" stroke-width="0.2" transform="translate(107.13 704.4) rotate(-51) scale(0.96 1)">CCND1</text>
<rect x="111.59" y="666.49" width="4.5" height="29.81" fill="#ef8a3a"/>
<text x="0" y="0" font-size="8.2" text-anchor="end" font-style="italic" fill="#231f20" stroke="#231f20" stroke-width="0.2" transform="translate(118.84 704.4) rotate(-51) scale(0.96 1)">FGF19</text>
<rect x="123.29" y="690.78" width="4.5" height="5.52" fill="#4474c2"/>
<rect x="123.29" y="668.7" width="4.5" height="22.08" fill="#a4a8ad"/>
<rect x="123.29" y="666.93" width="4.5" height="1.77" fill="#f6c628"/>
<text x="0" y="0" font-size="8.2" text-anchor="end" font-style="italic" fill="#231f20" stroke="#231f20" stroke-width="0.2" transform="translate(130.54 704.4) rotate(-51) scale(0.96 1)">ARID1A</text>
<rect x="135" y="667.6" width="4.5" height="28.7" fill="#ef8a3a"/>
<text x="0" y="0" font-size="8.2" text-anchor="end" font-style="italic" fill="#231f20" stroke="#231f20" stroke-width="0.2" transform="translate(142.25 704.4) rotate(-51) scale(0.96 1)">FGF3</text>
<rect x="146.7" y="668.26" width="4.5" height="28.04" fill="#ef8a3a"/>
<text x="0" y="0" font-size="8.2" text-anchor="end" font-style="italic" fill="#231f20" stroke="#231f20" stroke-width="0.2" transform="translate(153.95 704.4) rotate(-51) scale(0.96 1)">FGF4</text>
<rect x="158.41" y="670.02" width="4.5" height="26.28" fill="#ef8a3a"/>
<text x="0" y="0" font-size="8.2" text-anchor="end" font-style="italic" fill="#231f20" stroke="#231f20" stroke-width="0.2" transform="translate(165.66 704.4) rotate(-51) scale(0.96 1)">GATA6</text>
<rect x="170.11" y="671.13" width="4.5" height="25.17" fill="#ef8a3a"/>
<text x="0" y="0" font-size="8.2" text-anchor="end" font-style="italic" fill="#231f20" stroke="#231f20" stroke-width="0.2" transform="translate(177.36 704.4) rotate(-51) scale(0.96 1)">CDK6</text>
<rect x="181.81" y="675.32" width="4.5" height="20.98" fill="#ef8a3a"/>
<text x="0" y="0" font-size="8.2" text-anchor="end" font-style="italic" fill="#231f20" stroke="#231f20" stroke-width="0.2" transform="translate(189.06 704.4) rotate(-51) scale(0.96 1)">CDKN2B</text>
<rect x="193.52" y="691.44" width="4.5" height="4.86" fill="#ef8a3a"/>
<rect x="193.52" y="678.64" width="4.5" height="12.81" fill="#a4a8ad"/>
<rect x="193.52" y="677.75" width="4.5" height="0.88" fill="#f6c628"/>
<text x="0" y="0" font-size="8.2" text-anchor="end" font-style="italic" fill="#231f20" stroke="#231f20" stroke-width="0.2" transform="translate(200.77 704.4) rotate(-51) scale(0.96 1)">SMAD4</text>
<rect x="205.22" y="678.64" width="4.5" height="17.66" fill="#ef8a3a"/>
<text x="0" y="0" font-size="8.2" text-anchor="end" font-style="italic" fill="#231f20" stroke="#231f20" stroke-width="0.2" transform="translate(212.47 704.4) rotate(-51) scale(0.96 1)">CCND3</text>
<rect x="216.93" y="681.29" width="4.5" height="15.01" fill="#ef8a3a"/>
<text x="0" y="0" font-size="8.2" text-anchor="end" font-style="italic" fill="#231f20" stroke="#231f20" stroke-width="0.2" transform="translate(224.18 704.4) rotate(-51) scale(0.96 1)">EMSY</text>
<rect x="228.64" y="683.94" width="4.5" height="12.36" fill="#ef8a3a"/>
<text x="0" y="0" font-size="8.2" text-anchor="end" font-style="italic" fill="#231f20" stroke="#231f20" stroke-width="0.2" transform="translate(235.89 704.4) rotate(-51) scale(0.96 1)">RICTOR</text>
<rect x="240.34" y="685.04" width="4.5" height="11.26" fill="#ef8a3a"/>
<text x="0" y="0" font-size="8.2" text-anchor="end" font-style="italic" fill="#231f20" stroke="#231f20" stroke-width="0.2" transform="translate(247.59 704.4) rotate(-51) scale(0.96 1)">ZNF217</text>
<rect x="252.05" y="685.04" width="4.5" height="11.26" fill="#ef8a3a"/>
<text x="0" y="0" font-size="8.2" text-anchor="end" font-style="italic" fill="#231f20" stroke="#231f20" stroke-width="0.2" transform="translate(259.3 704.4) rotate(-51) scale(0.96 1)">MET</text>
<rect x="263.75" y="692.99" width="4.5" height="3.31" fill="#ef8a3a"/>
<rect x="263.75" y="684.82" width="4.5" height="8.17" fill="#a4a8ad"/>
<text x="0" y="0" font-size="8.2" text-anchor="end" font-style="italic" fill="#231f20" stroke="#231f20" stroke-width="0.2" transform="translate(271 704.4) rotate(-51) scale(0.96 1)">CDH1</text>
<rect x="275.45" y="691.88" width="4.5" height="4.42" fill="#ef8a3a"/>
<rect x="275.45" y="685.48" width="4.5" height="6.4" fill="#a4a8ad"/>
<text x="0" y="0" font-size="8.2" text-anchor="end" font-style="italic" fill="#231f20" stroke="#231f20" stroke-width="0.2" transform="translate(282.7 704.4) rotate(-51) scale(0.96 1)">KDM6A</text>
<rect x="23.2" y="743" width="2.9" height="4.7" fill="#4474c2"/>
<text x="0" y="0" font-size="6.1" fill="#231f20" stroke="#231f20" stroke-width="0.2" transform="translate(30 747.4) rotate(0.03)">Multiple alterations</text>
<rect x="92.9" y="743" width="2.9" height="4.7" fill="#ef8a3a"/>
<text x="0" y="0" font-size="6.1" fill="#231f20" stroke="#231f20" stroke-width="0.2" transform="translate(99.5 747.4) rotate(0.03)">Copy-number change</text>
<rect x="166.3" y="743" width="2.9" height="4.7" fill="#a4a8ad"/>
<text x="0" y="0" font-size="6.1" fill="#231f20" stroke="#231f20" stroke-width="0.2" transform="translate(172.3 747.4) rotate(0.03)">Short variant</text>
<rect x="217.3" y="743" width="2.9" height="4.7" fill="#f6c628"/>
<text x="0" y="0" font-size="6.1" fill="#231f20" stroke="#231f20" stroke-width="0.2" transform="translate(223.7 747.4) rotate(0.03)">Rearrangement</text>
<!-- Panel G -->
<line x1="298.3" y1="448.3" x2="520" y2="448.3" stroke="#c6c6ca" stroke-width="0.9"/>
<line x1="298.3" y1="562.3" x2="520" y2="562.3" stroke="#c6c6ca" stroke-width="0.9"/>
<line x1="298.3" y1="675.3" x2="520" y2="675.3" stroke="#c6c6ca" stroke-width="0.9"/>
<line x1="298.3" y1="756" x2="520" y2="756" stroke="#c6c6ca" stroke-width="0.9"/>
<line x1="298.3" y1="448.3" x2="298.3" y2="756" stroke="#c6c6ca" stroke-width="0.9"/>
<line x1="408.5" y1="448.3" x2="408.5" y2="756" stroke="#c6c6ca" stroke-width="0.9"/>
<text transform="translate(353.7 458.8) rotate(0.03)" font-size="6.7" text-anchor="middle" fill="#231f20" stroke="#231f20" stroke-width="0.15"><tspan font-style="italic">EGFR</tspan> amp PD-L1 tumor</text>
<path d="M303.3 503.55 L303.3 513.55 A36.35 20.65 0 0 0 376 513.55 L376 503.55 Z" fill="url(#gPieSide)"/>
<ellipse cx="339.65" cy="503.55" rx="36.35" ry="20.65" fill="url(#gPieTop)"/>
<path d="M340 501 L339.96 482.9 A36.35 20.65 0 0 1 363.18 487.81 Z" fill="#fbbd14"/>
<text x="0" y="0" font-size="5.1" text-anchor="middle" fill="#4a2a10" transform="translate(349.6 489.5) rotate(0.03)">12%</text>
<text x="0" y="0" font-size="5.1" text-anchor="middle" fill="#5c0f12" transform="translate(331.2 522.1) rotate(0.03)">88%</text>
<circle cx="380" cy="504.5" r="0.8" fill="#b0da88"/>
<text x="0" y="0" font-size="4.1" fill="#1c1c1c" transform="translate(382.3 505.95) rotate(0.03)" stroke="#1c1c1c" stroke-width="0.22">High positive</text>
<circle cx="380" cy="511.3" r="0.8" fill="#ffd24d"/>
<text x="0" y="0" font-size="4.1" fill="#1c1c1c" transform="translate(382.3 512.75) rotate(0.03)" stroke="#1c1c1c" stroke-width="0.22">Low positive</text>
<circle cx="380" cy="518" r="0.8" fill="#a3152a"/>
<text x="0" y="0" font-size="4.1" fill="#1c1c1c" transform="translate(382.3 519.45) rotate(0.03)" stroke="#1c1c1c" stroke-width="0.22">Negative</text>
<text transform="translate(464 458.6) rotate(0.03)" font-size="6.7" text-anchor="middle" fill="#231f20" stroke="#231f20" stroke-width="0.15"><tspan font-style="italic">EGFR</tspan> nonamp PD-L1 tumor</text>
<path d="M413.8 503.5 L413.8 513 A36.9 20.7 0 0 0 487.6 513 L487.6 503.5 Z" fill="url(#gPieSide)"/>
<ellipse cx="450.7" cy="503.5" rx="36.9" ry="20.7" fill="url(#gPieTop)"/>
<path d="M450.4 501 L450.44 482.8 A36.9 20.7 0 0 1 455.52 482.98 Z" fill="#8cc63f"/>
<path d="M450.4 501 L455.52 482.98 A36.9 20.7 0 0 1 480.76 491.5 Z" fill="#fbbd14"/>
<text x="0" y="0" font-size="5.1" text-anchor="middle" fill="#4a2a10" transform="translate(465.6 490.8) rotate(0.03)">14%</text>
<text x="0" y="0" font-size="4.6" text-anchor="middle" fill="#3f6f1f" transform="translate(454.8 487.3) rotate(0.03)">3%</text>
<text x="0" y="0" font-size="5.1" text-anchor="middle" fill="#5c0f12" transform="translate(443.8 522.1) rotate(0.03)">83%</text>
<circle cx="491.6" cy="504.6" r="0.8" fill="#b0da88"/>
<text x="0" y="0" font-size="4.1" fill="#1c1c1c" transform="translate(493.6 506.05) rotate(0.03)" stroke="#1c1c1c" stroke-width="0.22">High positive</text>
<circle cx="491.6" cy="511.5" r="0.8" fill="#ffd24d"/>
<text x="0" y="0" font-size="4.1" fill="#1c1c1c" transform="translate(493.6 512.95) rotate(0.03)" stroke="#1c1c1c" stroke-width="0.22">Low positive</text>
<circle cx="491.6" cy="518.5" r="0.8" fill="#a3152a"/>
<text x="0" y="0" font-size="4.1" fill="#1c1c1c" transform="translate(493.6 519.95) rotate(0.03)" stroke="#1c1c1c" stroke-width="0.22">Negative</text>
<text transform="translate(353.7 572) rotate(0.03)" font-size="6.7" text-anchor="middle" fill="#231f20" stroke="#231f20" stroke-width="0.15"><tspan font-style="italic">EGFR</tspan> amp PD-L1 TILs</text>
<path d="M303.4 617 L303.4 626.6 A36.3 20.4 0 0 0 376 626.6 L376 617 Z" fill="url(#gPieSide)"/>
<ellipse cx="339.7" cy="617" rx="36.3" ry="20.4" fill="url(#gPieTop)"/>
<path d="M339.7 614.8 L339.7 596.6 A36.3 20.4 0 0 1 362.73 601.23 Z" fill="#fbbd14"/>
<text x="0" y="0" font-size="5.1" text-anchor="middle" fill="#4a2a10" transform="translate(349.4 602.7) rotate(0.03)">12%</text>
<text x="0" y="0" font-size="5.1" text-anchor="middle" fill="#5c0f12" transform="translate(331.2 635.6) rotate(0.03)">88%</text>
<circle cx="380.3" cy="618.2" r="0.8" fill="#b0da88"/>
<text x="0" y="0" font-size="4.1" fill="#1c1c1c" transform="translate(383.4 619.65) rotate(0.03)" stroke="#1c1c1c" stroke-width="0.22">High positive</text>
<circle cx="380.3" cy="625.3" r="0.8" fill="#ffd24d"/>
<text x="0" y="0" font-size="4.1" fill="#1c1c1c" transform="translate(383.4 626.75) rotate(0.03)" stroke="#1c1c1c" stroke-width="0.22">Low positive</text>
<circle cx="380.3" cy="632.6" r="0.8" fill="#a3152a"/>
<text x="0" y="0" font-size="4.1" fill="#1c1c1c" transform="translate(383.4 634.05) rotate(0.03)" stroke="#1c1c1c" stroke-width="0.22">Negative</text>
<text transform="translate(464 571.7) rotate(0.03)" font-size="6.7" text-anchor="middle" fill="#231f20" stroke="#231f20" stroke-width="0.15"><tspan font-style="italic">EGFR</tspan> nonamp PD-L1 TILs</text>
<path d="M413.8 617.2 L413.8 626.6 A36.85 20.6 0 0 0 487.5 626.6 L487.5 617.2 Z" fill="url(#gPieSide)"/>
<ellipse cx="450.65" cy="617.2" rx="36.85" ry="20.6" fill="url(#gPieTop)"/>
<path d="M450.2 615.1 L450.31 596.6 A36.85 20.6 0 0 1 481.52 605.95 Z" fill="#fbbd14"/>
<text x="0" y="0" font-size="5.1" text-anchor="middle" fill="#4a2a10" transform="translate(462.6 604.6) rotate(0.03)">18%</text>
<text x="0" y="0" font-size="5.1" text-anchor="middle" fill="#5c0f12" transform="translate(445.4 636.9) rotate(0.03)">82%</text>
<circle cx="491.6" cy="618" r="0.8" fill="#b0da88"/>
<text x="0" y="0" font-size="4.1" fill="#1c1c1c" transform="translate(493.6 619.45) rotate(0.03)" stroke="#1c1c1c" stroke-width="0.22">High positive</text>
<circle cx="491.6" cy="625.1" r="0.8" fill="#ffd24d"/>
<text x="0" y="0" font-size="4.1" fill="#1c1c1c" transform="translate(493.6 626.55) rotate(0.03)" stroke="#1c1c1c" stroke-width="0.22">Low positive</text>
<circle cx="491.6" cy="632.4" r="0.8" fill="#a3152a"/>
<text x="0" y="0" font-size="4.1" fill="#1c1c1c" transform="translate(493.6 633.85) rotate(0.03)" stroke="#1c1c1c" stroke-width="0.22">Negative</text>
<text transform="translate(353.5 685.3) rotate(0.03)" font-size="6.7" text-anchor="middle" fill="#231f20" stroke="#231f20" stroke-width="0.15"><tspan font-style="italic">EGFR</tspan> amp CPS score</text>
<path d="M303.1 715.9 L303.1 725.5 A35.65 19.6 0 0 0 374.4 725.5 L374.4 715.9 Z" fill="url(#gPieSide)"/>
<ellipse cx="338.75" cy="715.9" rx="35.65" ry="19.6" fill="url(#gPieTop)"/>
<path d="M338.5 712.3 L338.56 696.3 A35.65 19.6 0 0 1 367.02 703.96 Z" fill="#fbbd14"/>
<text x="0" y="0" font-size="5.1" text-anchor="middle" fill="#4a2a10" transform="translate(351.4 703) rotate(0.03)">17%</text>
<text x="0" y="0" font-size="5.1" text-anchor="middle" fill="#5c0f12" transform="translate(331.7 733.8) rotate(0.03)">83%</text>
<circle cx="378.6" cy="718.7" r="0.8" fill="#ffd24d"/>
<text x="0" y="0" font-size="3.92" fill="#1c1c1c" transform="translate(381.4 720.15) rotate(0.03)" stroke="#1c1c1c" stroke-width="0.22">Positive (&gt;1%)</text>
<circle cx="378.6" cy="725.9" r="0.8" fill="#a3152a"/>
<text x="0" y="0" font-size="3.92" fill="#1c1c1c" transform="translate(381.4 727.35) rotate(0.03)" stroke="#1c1c1c" stroke-width="0.22">Negative</text>
<text transform="translate(462.6 685.2) rotate(0.03)" font-size="6.7" text-anchor="middle" fill="#231f20" stroke="#231f20" stroke-width="0.15"><tspan font-style="italic">EGFR</tspan> nonamp CPS score</text>
<path d="M412.4 715.8 L412.4 726.2 A36.25 20 0 0 0 484.9 726.2 L484.9 715.8 Z" fill="url(#gPieSide)"/>
<ellipse cx="448.65" cy="715.8" rx="36.25" ry="20" fill="url(#gPieTop)"/>
<path d="M448.7 713 L448.69 695.8 A36.25 20 0 0 1 484.9 715.5 Z" fill="#fbbd14"/>
<text x="0" y="0" font-size="5.1" text-anchor="middle" fill="#4a2a10" transform="translate(467.4 705.2) rotate(0.03)">27%</text>
<text x="0" y="0" font-size="5.1" text-anchor="middle" fill="#5c0f12" transform="translate(445.9 734.4) rotate(0.03)">73%</text>
<circle cx="489.8" cy="718.6" r="0.8" fill="#ffd24d"/>
<text x="0" y="0" font-size="3.92" fill="#1c1c1c" transform="translate(492.1 720.05) rotate(0.03)" stroke="#1c1c1c" stroke-width="0.22">Positive (&gt;1%)</text>
<circle cx="489.8" cy="725.9" r="0.8" fill="#a3152a"/>
<text x="0" y="0" font-size="3.92" fill="#1c1c1c" transform="translate(492.1 727.35) rotate(0.03)" stroke="#1c1c1c" stroke-width="0.22">Negative</text>
</g>
</svg>
</body>
</html>
